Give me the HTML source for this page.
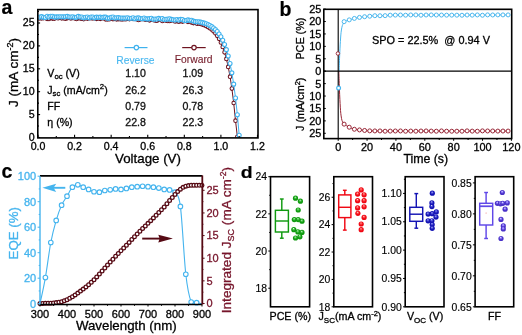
<!DOCTYPE html>
<html><head><meta charset="utf-8"><style>
html,body{margin:0;padding:0;background:#fff;}
svg{display:block;will-change:transform;}
text{font-family:"Liberation Sans", sans-serif;paint-order:stroke;}
</style></head><body>
<svg width="522" height="335" viewBox="0 0 522 335">
<defs><clipPath id="clipA"><rect x="38.4" y="9.6" width="220" height="128"/></clipPath></defs>
<rect width="522" height="335" fill="#fff"/>
<g clip-path="url(#clipA)">
<polyline fill="none" stroke="#6e1420" stroke-width="1" points="38,18.55 39.83,18.13 41.66,18.37 43.49,18.05 45.32,18.03 47.15,18.8 48.97,18.88 50.8,17.75 52.63,18.55 54.46,18.59 56.29,17.56 58.12,18.29 59.95,17.79 61.78,18.3 63.61,18.09 65.44,18.77 67.26,18.12 69.09,17.82 70.92,18.31 72.75,18.02 74.58,18.14 76.41,18.99 78.24,18.06 80.07,18.31 81.9,18.73 83.72,19.12 85.55,18 87.38,18.56 89.21,18.25 91.04,18.06 92.87,18.31 94.7,18.05 96.53,18.8 98.36,18.28 100.19,18.8 102.02,18.15 103.84,18.26 105.67,19.37 107.5,19.35 109.33,19.28 111.16,18.28 112.99,19.05 114.82,18.83 116.65,19.31 118.48,19.07 120.31,19.28 122.13,19.37 123.96,19.09 125.79,19.13 127.62,18.74 129.45,19.09 131.28,18.79 133.11,18.94 134.94,18.8 136.77,19.29 138.6,20.04 140.42,19.13 142.25,19.04 144.08,19.18 145.91,19.7 147.74,19.55 149.57,20.3 151.4,19.51 153.23,19.92 155.06,20.38 156.88,20.74 158.71,19.72 160.54,19.6 162.37,20.91 164.2,20 166.03,20.61 167.86,21.04 169.69,20.92 171.52,20.35 173.35,20.3 175.18,21.53 177,20.84 178.83,21.73 180.66,20.92 182.49,21.58 184.32,20.97 186.15,20.98 187.98,21.81 189.81,21.33 191.64,22.5 193.47,23.07 195.29,22.65 197.12,23.78 198.95,23.54 200.78,24.02 202.61,24.59 204.44,25.27 206.27,26.08 208.1,27.05 209.93,28.21 211.76,29.61 213.58,31.31 215.41,33.36 217.24,35.84 219.07,38.85 220.9,42.51 222.73,46.95 224.56,52.35 226.39,58.93 228.22,66.93 230.05,76.68 231.87,88.55 233.7,103.02 235.53,120.65 237.36,136.81"/>
<circle cx="38" cy="18.55" r="1.8" fill="#fff" stroke="#6e1420" stroke-width="1.05"/>
<circle cx="39.83" cy="18.13" r="1.8" fill="#fff" stroke="#6e1420" stroke-width="1.05"/>
<circle cx="41.66" cy="18.37" r="1.8" fill="#fff" stroke="#6e1420" stroke-width="1.05"/>
<circle cx="43.49" cy="18.05" r="1.8" fill="#fff" stroke="#6e1420" stroke-width="1.05"/>
<circle cx="45.32" cy="18.03" r="1.8" fill="#fff" stroke="#6e1420" stroke-width="1.05"/>
<circle cx="47.15" cy="18.8" r="1.8" fill="#fff" stroke="#6e1420" stroke-width="1.05"/>
<circle cx="48.97" cy="18.88" r="1.8" fill="#fff" stroke="#6e1420" stroke-width="1.05"/>
<circle cx="50.8" cy="17.75" r="1.8" fill="#fff" stroke="#6e1420" stroke-width="1.05"/>
<circle cx="52.63" cy="18.55" r="1.8" fill="#fff" stroke="#6e1420" stroke-width="1.05"/>
<circle cx="54.46" cy="18.59" r="1.8" fill="#fff" stroke="#6e1420" stroke-width="1.05"/>
<circle cx="56.29" cy="17.56" r="1.8" fill="#fff" stroke="#6e1420" stroke-width="1.05"/>
<circle cx="58.12" cy="18.29" r="1.8" fill="#fff" stroke="#6e1420" stroke-width="1.05"/>
<circle cx="59.95" cy="17.79" r="1.8" fill="#fff" stroke="#6e1420" stroke-width="1.05"/>
<circle cx="61.78" cy="18.3" r="1.8" fill="#fff" stroke="#6e1420" stroke-width="1.05"/>
<circle cx="63.61" cy="18.09" r="1.8" fill="#fff" stroke="#6e1420" stroke-width="1.05"/>
<circle cx="65.44" cy="18.77" r="1.8" fill="#fff" stroke="#6e1420" stroke-width="1.05"/>
<circle cx="67.26" cy="18.12" r="1.8" fill="#fff" stroke="#6e1420" stroke-width="1.05"/>
<circle cx="69.09" cy="17.82" r="1.8" fill="#fff" stroke="#6e1420" stroke-width="1.05"/>
<circle cx="70.92" cy="18.31" r="1.8" fill="#fff" stroke="#6e1420" stroke-width="1.05"/>
<circle cx="72.75" cy="18.02" r="1.8" fill="#fff" stroke="#6e1420" stroke-width="1.05"/>
<circle cx="74.58" cy="18.14" r="1.8" fill="#fff" stroke="#6e1420" stroke-width="1.05"/>
<circle cx="76.41" cy="18.99" r="1.8" fill="#fff" stroke="#6e1420" stroke-width="1.05"/>
<circle cx="78.24" cy="18.06" r="1.8" fill="#fff" stroke="#6e1420" stroke-width="1.05"/>
<circle cx="80.07" cy="18.31" r="1.8" fill="#fff" stroke="#6e1420" stroke-width="1.05"/>
<circle cx="81.9" cy="18.73" r="1.8" fill="#fff" stroke="#6e1420" stroke-width="1.05"/>
<circle cx="83.72" cy="19.12" r="1.8" fill="#fff" stroke="#6e1420" stroke-width="1.05"/>
<circle cx="85.55" cy="18" r="1.8" fill="#fff" stroke="#6e1420" stroke-width="1.05"/>
<circle cx="87.38" cy="18.56" r="1.8" fill="#fff" stroke="#6e1420" stroke-width="1.05"/>
<circle cx="89.21" cy="18.25" r="1.8" fill="#fff" stroke="#6e1420" stroke-width="1.05"/>
<circle cx="91.04" cy="18.06" r="1.8" fill="#fff" stroke="#6e1420" stroke-width="1.05"/>
<circle cx="92.87" cy="18.31" r="1.8" fill="#fff" stroke="#6e1420" stroke-width="1.05"/>
<circle cx="94.7" cy="18.05" r="1.8" fill="#fff" stroke="#6e1420" stroke-width="1.05"/>
<circle cx="96.53" cy="18.8" r="1.8" fill="#fff" stroke="#6e1420" stroke-width="1.05"/>
<circle cx="98.36" cy="18.28" r="1.8" fill="#fff" stroke="#6e1420" stroke-width="1.05"/>
<circle cx="100.19" cy="18.8" r="1.8" fill="#fff" stroke="#6e1420" stroke-width="1.05"/>
<circle cx="102.02" cy="18.15" r="1.8" fill="#fff" stroke="#6e1420" stroke-width="1.05"/>
<circle cx="103.84" cy="18.26" r="1.8" fill="#fff" stroke="#6e1420" stroke-width="1.05"/>
<circle cx="105.67" cy="19.37" r="1.8" fill="#fff" stroke="#6e1420" stroke-width="1.05"/>
<circle cx="107.5" cy="19.35" r="1.8" fill="#fff" stroke="#6e1420" stroke-width="1.05"/>
<circle cx="109.33" cy="19.28" r="1.8" fill="#fff" stroke="#6e1420" stroke-width="1.05"/>
<circle cx="111.16" cy="18.28" r="1.8" fill="#fff" stroke="#6e1420" stroke-width="1.05"/>
<circle cx="112.99" cy="19.05" r="1.8" fill="#fff" stroke="#6e1420" stroke-width="1.05"/>
<circle cx="114.82" cy="18.83" r="1.8" fill="#fff" stroke="#6e1420" stroke-width="1.05"/>
<circle cx="116.65" cy="19.31" r="1.8" fill="#fff" stroke="#6e1420" stroke-width="1.05"/>
<circle cx="118.48" cy="19.07" r="1.8" fill="#fff" stroke="#6e1420" stroke-width="1.05"/>
<circle cx="120.31" cy="19.28" r="1.8" fill="#fff" stroke="#6e1420" stroke-width="1.05"/>
<circle cx="122.13" cy="19.37" r="1.8" fill="#fff" stroke="#6e1420" stroke-width="1.05"/>
<circle cx="123.96" cy="19.09" r="1.8" fill="#fff" stroke="#6e1420" stroke-width="1.05"/>
<circle cx="125.79" cy="19.13" r="1.8" fill="#fff" stroke="#6e1420" stroke-width="1.05"/>
<circle cx="127.62" cy="18.74" r="1.8" fill="#fff" stroke="#6e1420" stroke-width="1.05"/>
<circle cx="129.45" cy="19.09" r="1.8" fill="#fff" stroke="#6e1420" stroke-width="1.05"/>
<circle cx="131.28" cy="18.79" r="1.8" fill="#fff" stroke="#6e1420" stroke-width="1.05"/>
<circle cx="133.11" cy="18.94" r="1.8" fill="#fff" stroke="#6e1420" stroke-width="1.05"/>
<circle cx="134.94" cy="18.8" r="1.8" fill="#fff" stroke="#6e1420" stroke-width="1.05"/>
<circle cx="136.77" cy="19.29" r="1.8" fill="#fff" stroke="#6e1420" stroke-width="1.05"/>
<circle cx="138.6" cy="20.04" r="1.8" fill="#fff" stroke="#6e1420" stroke-width="1.05"/>
<circle cx="140.42" cy="19.13" r="1.8" fill="#fff" stroke="#6e1420" stroke-width="1.05"/>
<circle cx="142.25" cy="19.04" r="1.8" fill="#fff" stroke="#6e1420" stroke-width="1.05"/>
<circle cx="144.08" cy="19.18" r="1.8" fill="#fff" stroke="#6e1420" stroke-width="1.05"/>
<circle cx="145.91" cy="19.7" r="1.8" fill="#fff" stroke="#6e1420" stroke-width="1.05"/>
<circle cx="147.74" cy="19.55" r="1.8" fill="#fff" stroke="#6e1420" stroke-width="1.05"/>
<circle cx="149.57" cy="20.3" r="1.8" fill="#fff" stroke="#6e1420" stroke-width="1.05"/>
<circle cx="151.4" cy="19.51" r="1.8" fill="#fff" stroke="#6e1420" stroke-width="1.05"/>
<circle cx="153.23" cy="19.92" r="1.8" fill="#fff" stroke="#6e1420" stroke-width="1.05"/>
<circle cx="155.06" cy="20.38" r="1.8" fill="#fff" stroke="#6e1420" stroke-width="1.05"/>
<circle cx="156.88" cy="20.74" r="1.8" fill="#fff" stroke="#6e1420" stroke-width="1.05"/>
<circle cx="158.71" cy="19.72" r="1.8" fill="#fff" stroke="#6e1420" stroke-width="1.05"/>
<circle cx="160.54" cy="19.6" r="1.8" fill="#fff" stroke="#6e1420" stroke-width="1.05"/>
<circle cx="162.37" cy="20.91" r="1.8" fill="#fff" stroke="#6e1420" stroke-width="1.05"/>
<circle cx="164.2" cy="20" r="1.8" fill="#fff" stroke="#6e1420" stroke-width="1.05"/>
<circle cx="166.03" cy="20.61" r="1.8" fill="#fff" stroke="#6e1420" stroke-width="1.05"/>
<circle cx="167.86" cy="21.04" r="1.8" fill="#fff" stroke="#6e1420" stroke-width="1.05"/>
<circle cx="169.69" cy="20.92" r="1.8" fill="#fff" stroke="#6e1420" stroke-width="1.05"/>
<circle cx="171.52" cy="20.35" r="1.8" fill="#fff" stroke="#6e1420" stroke-width="1.05"/>
<circle cx="173.35" cy="20.3" r="1.8" fill="#fff" stroke="#6e1420" stroke-width="1.05"/>
<circle cx="175.18" cy="21.53" r="1.8" fill="#fff" stroke="#6e1420" stroke-width="1.05"/>
<circle cx="177" cy="20.84" r="1.8" fill="#fff" stroke="#6e1420" stroke-width="1.05"/>
<circle cx="178.83" cy="21.73" r="1.8" fill="#fff" stroke="#6e1420" stroke-width="1.05"/>
<circle cx="180.66" cy="20.92" r="1.8" fill="#fff" stroke="#6e1420" stroke-width="1.05"/>
<circle cx="182.49" cy="21.58" r="1.8" fill="#fff" stroke="#6e1420" stroke-width="1.05"/>
<circle cx="184.32" cy="20.97" r="1.8" fill="#fff" stroke="#6e1420" stroke-width="1.05"/>
<circle cx="186.15" cy="20.98" r="1.8" fill="#fff" stroke="#6e1420" stroke-width="1.05"/>
<circle cx="187.98" cy="21.81" r="1.8" fill="#fff" stroke="#6e1420" stroke-width="1.05"/>
<circle cx="189.81" cy="21.33" r="1.8" fill="#fff" stroke="#6e1420" stroke-width="1.05"/>
<circle cx="191.64" cy="22.5" r="1.8" fill="#fff" stroke="#6e1420" stroke-width="1.05"/>
<circle cx="193.47" cy="23.07" r="1.8" fill="#fff" stroke="#6e1420" stroke-width="1.05"/>
<circle cx="195.29" cy="22.65" r="1.8" fill="#fff" stroke="#6e1420" stroke-width="1.05"/>
<circle cx="197.12" cy="23.78" r="1.8" fill="#fff" stroke="#6e1420" stroke-width="1.05"/>
<circle cx="198.95" cy="23.54" r="1.8" fill="#fff" stroke="#6e1420" stroke-width="1.05"/>
<circle cx="200.78" cy="24.02" r="1.8" fill="#fff" stroke="#6e1420" stroke-width="1.05"/>
<circle cx="202.61" cy="24.59" r="1.8" fill="#fff" stroke="#6e1420" stroke-width="1.05"/>
<circle cx="204.44" cy="25.27" r="1.8" fill="#fff" stroke="#6e1420" stroke-width="1.05"/>
<circle cx="206.27" cy="26.08" r="1.8" fill="#fff" stroke="#6e1420" stroke-width="1.05"/>
<circle cx="208.1" cy="27.05" r="1.8" fill="#fff" stroke="#6e1420" stroke-width="1.05"/>
<circle cx="209.93" cy="28.21" r="1.8" fill="#fff" stroke="#6e1420" stroke-width="1.05"/>
<circle cx="211.76" cy="29.61" r="1.8" fill="#fff" stroke="#6e1420" stroke-width="1.05"/>
<circle cx="213.58" cy="31.31" r="1.8" fill="#fff" stroke="#6e1420" stroke-width="1.05"/>
<circle cx="215.41" cy="33.36" r="1.8" fill="#fff" stroke="#6e1420" stroke-width="1.05"/>
<circle cx="217.24" cy="35.84" r="1.8" fill="#fff" stroke="#6e1420" stroke-width="1.05"/>
<circle cx="219.07" cy="38.85" r="1.8" fill="#fff" stroke="#6e1420" stroke-width="1.05"/>
<circle cx="220.9" cy="42.51" r="1.8" fill="#fff" stroke="#6e1420" stroke-width="1.05"/>
<circle cx="222.73" cy="46.95" r="1.8" fill="#fff" stroke="#6e1420" stroke-width="1.05"/>
<circle cx="224.56" cy="52.35" r="1.8" fill="#fff" stroke="#6e1420" stroke-width="1.05"/>
<circle cx="226.39" cy="58.93" r="1.8" fill="#fff" stroke="#6e1420" stroke-width="1.05"/>
<circle cx="228.22" cy="66.93" r="1.8" fill="#fff" stroke="#6e1420" stroke-width="1.05"/>
<circle cx="230.05" cy="76.68" r="1.8" fill="#fff" stroke="#6e1420" stroke-width="1.05"/>
<circle cx="231.87" cy="88.55" r="1.8" fill="#fff" stroke="#6e1420" stroke-width="1.05"/>
<circle cx="233.7" cy="103.02" r="1.8" fill="#fff" stroke="#6e1420" stroke-width="1.05"/>
<circle cx="235.53" cy="120.65" r="1.8" fill="#fff" stroke="#6e1420" stroke-width="1.05"/>
<circle cx="237.36" cy="136.81" r="1.8" fill="#fff" stroke="#6e1420" stroke-width="1.05"/>
<polyline fill="none" stroke="#3fb2ee" stroke-width="1" points="38,17.23 39.83,16.94 41.66,16.67 43.49,17.29 45.32,17.45 47.15,16.32 48.97,17.09 50.8,16.21 52.63,16.3 54.46,17.02 56.29,16.92 58.12,16.84 59.95,16.69 61.78,16.76 63.61,16.83 65.44,16.75 67.26,16.33 69.09,16.94 70.92,17.06 72.75,16.68 74.58,17.36 76.41,17.29 78.24,16.38 80.07,17.03 81.9,17.01 83.72,17.77 85.55,17.24 87.38,17.04 89.21,17.84 91.04,17.04 92.87,17.05 94.7,17.86 96.53,17.11 98.36,17.36 100.19,17.1 102.02,17.58 103.84,17.13 105.67,17.12 107.5,18.13 109.33,18.12 111.16,17.31 112.99,16.95 114.82,17.97 116.65,17.72 118.48,17.58 120.31,17.99 122.13,17.97 123.96,18.09 125.79,18.05 127.62,17.79 129.45,18.24 131.28,18.18 133.11,17.68 134.94,18.75 136.77,18.06 138.6,17.88 140.42,18.52 142.25,18.69 144.08,17.94 145.91,18.77 147.74,18.9 149.57,18.62 151.4,18.31 153.23,19.19 155.06,18.95 156.88,18.99 158.71,18.37 160.54,18.98 162.37,18.47 164.2,19.48 166.03,19.32 167.86,18.97 169.69,18.72 171.52,19.4 173.35,19.79 175.18,20.02 177,19.55 178.83,20.11 180.66,19.37 182.49,19.44 184.32,20.47 186.15,20.48 187.98,19.9 189.81,20.3 191.64,20.26 193.47,21.11 195.29,21.66 197.12,21.72 198.95,21.77 200.78,22.17 202.61,22.63 204.44,23.17 206.27,23.82 208.1,24.6 209.93,25.52 211.76,26.64 213.58,27.98 215.41,29.6 217.24,31.56 219.07,33.93 220.9,36.8 222.73,40.29 224.56,44.52 226.39,49.67 228.22,55.94 230.05,63.56 231.87,72.85 233.7,84.16 235.53,97.94 237.36,114.74 239.19,135.22"/>
<circle cx="38" cy="17.23" r="2" fill="#fff" stroke="#3fb2ee" stroke-width="1.1"/>
<circle cx="39.83" cy="16.94" r="2" fill="#fff" stroke="#3fb2ee" stroke-width="1.1"/>
<circle cx="41.66" cy="16.67" r="2" fill="#fff" stroke="#3fb2ee" stroke-width="1.1"/>
<circle cx="43.49" cy="17.29" r="2" fill="#fff" stroke="#3fb2ee" stroke-width="1.1"/>
<circle cx="45.32" cy="17.45" r="2" fill="#fff" stroke="#3fb2ee" stroke-width="1.1"/>
<circle cx="47.15" cy="16.32" r="2" fill="#fff" stroke="#3fb2ee" stroke-width="1.1"/>
<circle cx="48.97" cy="17.09" r="2" fill="#fff" stroke="#3fb2ee" stroke-width="1.1"/>
<circle cx="50.8" cy="16.21" r="2" fill="#fff" stroke="#3fb2ee" stroke-width="1.1"/>
<circle cx="52.63" cy="16.3" r="2" fill="#fff" stroke="#3fb2ee" stroke-width="1.1"/>
<circle cx="54.46" cy="17.02" r="2" fill="#fff" stroke="#3fb2ee" stroke-width="1.1"/>
<circle cx="56.29" cy="16.92" r="2" fill="#fff" stroke="#3fb2ee" stroke-width="1.1"/>
<circle cx="58.12" cy="16.84" r="2" fill="#fff" stroke="#3fb2ee" stroke-width="1.1"/>
<circle cx="59.95" cy="16.69" r="2" fill="#fff" stroke="#3fb2ee" stroke-width="1.1"/>
<circle cx="61.78" cy="16.76" r="2" fill="#fff" stroke="#3fb2ee" stroke-width="1.1"/>
<circle cx="63.61" cy="16.83" r="2" fill="#fff" stroke="#3fb2ee" stroke-width="1.1"/>
<circle cx="65.44" cy="16.75" r="2" fill="#fff" stroke="#3fb2ee" stroke-width="1.1"/>
<circle cx="67.26" cy="16.33" r="2" fill="#fff" stroke="#3fb2ee" stroke-width="1.1"/>
<circle cx="69.09" cy="16.94" r="2" fill="#fff" stroke="#3fb2ee" stroke-width="1.1"/>
<circle cx="70.92" cy="17.06" r="2" fill="#fff" stroke="#3fb2ee" stroke-width="1.1"/>
<circle cx="72.75" cy="16.68" r="2" fill="#fff" stroke="#3fb2ee" stroke-width="1.1"/>
<circle cx="74.58" cy="17.36" r="2" fill="#fff" stroke="#3fb2ee" stroke-width="1.1"/>
<circle cx="76.41" cy="17.29" r="2" fill="#fff" stroke="#3fb2ee" stroke-width="1.1"/>
<circle cx="78.24" cy="16.38" r="2" fill="#fff" stroke="#3fb2ee" stroke-width="1.1"/>
<circle cx="80.07" cy="17.03" r="2" fill="#fff" stroke="#3fb2ee" stroke-width="1.1"/>
<circle cx="81.9" cy="17.01" r="2" fill="#fff" stroke="#3fb2ee" stroke-width="1.1"/>
<circle cx="83.72" cy="17.77" r="2" fill="#fff" stroke="#3fb2ee" stroke-width="1.1"/>
<circle cx="85.55" cy="17.24" r="2" fill="#fff" stroke="#3fb2ee" stroke-width="1.1"/>
<circle cx="87.38" cy="17.04" r="2" fill="#fff" stroke="#3fb2ee" stroke-width="1.1"/>
<circle cx="89.21" cy="17.84" r="2" fill="#fff" stroke="#3fb2ee" stroke-width="1.1"/>
<circle cx="91.04" cy="17.04" r="2" fill="#fff" stroke="#3fb2ee" stroke-width="1.1"/>
<circle cx="92.87" cy="17.05" r="2" fill="#fff" stroke="#3fb2ee" stroke-width="1.1"/>
<circle cx="94.7" cy="17.86" r="2" fill="#fff" stroke="#3fb2ee" stroke-width="1.1"/>
<circle cx="96.53" cy="17.11" r="2" fill="#fff" stroke="#3fb2ee" stroke-width="1.1"/>
<circle cx="98.36" cy="17.36" r="2" fill="#fff" stroke="#3fb2ee" stroke-width="1.1"/>
<circle cx="100.19" cy="17.1" r="2" fill="#fff" stroke="#3fb2ee" stroke-width="1.1"/>
<circle cx="102.02" cy="17.58" r="2" fill="#fff" stroke="#3fb2ee" stroke-width="1.1"/>
<circle cx="103.84" cy="17.13" r="2" fill="#fff" stroke="#3fb2ee" stroke-width="1.1"/>
<circle cx="105.67" cy="17.12" r="2" fill="#fff" stroke="#3fb2ee" stroke-width="1.1"/>
<circle cx="107.5" cy="18.13" r="2" fill="#fff" stroke="#3fb2ee" stroke-width="1.1"/>
<circle cx="109.33" cy="18.12" r="2" fill="#fff" stroke="#3fb2ee" stroke-width="1.1"/>
<circle cx="111.16" cy="17.31" r="2" fill="#fff" stroke="#3fb2ee" stroke-width="1.1"/>
<circle cx="112.99" cy="16.95" r="2" fill="#fff" stroke="#3fb2ee" stroke-width="1.1"/>
<circle cx="114.82" cy="17.97" r="2" fill="#fff" stroke="#3fb2ee" stroke-width="1.1"/>
<circle cx="116.65" cy="17.72" r="2" fill="#fff" stroke="#3fb2ee" stroke-width="1.1"/>
<circle cx="118.48" cy="17.58" r="2" fill="#fff" stroke="#3fb2ee" stroke-width="1.1"/>
<circle cx="120.31" cy="17.99" r="2" fill="#fff" stroke="#3fb2ee" stroke-width="1.1"/>
<circle cx="122.13" cy="17.97" r="2" fill="#fff" stroke="#3fb2ee" stroke-width="1.1"/>
<circle cx="123.96" cy="18.09" r="2" fill="#fff" stroke="#3fb2ee" stroke-width="1.1"/>
<circle cx="125.79" cy="18.05" r="2" fill="#fff" stroke="#3fb2ee" stroke-width="1.1"/>
<circle cx="127.62" cy="17.79" r="2" fill="#fff" stroke="#3fb2ee" stroke-width="1.1"/>
<circle cx="129.45" cy="18.24" r="2" fill="#fff" stroke="#3fb2ee" stroke-width="1.1"/>
<circle cx="131.28" cy="18.18" r="2" fill="#fff" stroke="#3fb2ee" stroke-width="1.1"/>
<circle cx="133.11" cy="17.68" r="2" fill="#fff" stroke="#3fb2ee" stroke-width="1.1"/>
<circle cx="134.94" cy="18.75" r="2" fill="#fff" stroke="#3fb2ee" stroke-width="1.1"/>
<circle cx="136.77" cy="18.06" r="2" fill="#fff" stroke="#3fb2ee" stroke-width="1.1"/>
<circle cx="138.6" cy="17.88" r="2" fill="#fff" stroke="#3fb2ee" stroke-width="1.1"/>
<circle cx="140.42" cy="18.52" r="2" fill="#fff" stroke="#3fb2ee" stroke-width="1.1"/>
<circle cx="142.25" cy="18.69" r="2" fill="#fff" stroke="#3fb2ee" stroke-width="1.1"/>
<circle cx="144.08" cy="17.94" r="2" fill="#fff" stroke="#3fb2ee" stroke-width="1.1"/>
<circle cx="145.91" cy="18.77" r="2" fill="#fff" stroke="#3fb2ee" stroke-width="1.1"/>
<circle cx="147.74" cy="18.9" r="2" fill="#fff" stroke="#3fb2ee" stroke-width="1.1"/>
<circle cx="149.57" cy="18.62" r="2" fill="#fff" stroke="#3fb2ee" stroke-width="1.1"/>
<circle cx="151.4" cy="18.31" r="2" fill="#fff" stroke="#3fb2ee" stroke-width="1.1"/>
<circle cx="153.23" cy="19.19" r="2" fill="#fff" stroke="#3fb2ee" stroke-width="1.1"/>
<circle cx="155.06" cy="18.95" r="2" fill="#fff" stroke="#3fb2ee" stroke-width="1.1"/>
<circle cx="156.88" cy="18.99" r="2" fill="#fff" stroke="#3fb2ee" stroke-width="1.1"/>
<circle cx="158.71" cy="18.37" r="2" fill="#fff" stroke="#3fb2ee" stroke-width="1.1"/>
<circle cx="160.54" cy="18.98" r="2" fill="#fff" stroke="#3fb2ee" stroke-width="1.1"/>
<circle cx="162.37" cy="18.47" r="2" fill="#fff" stroke="#3fb2ee" stroke-width="1.1"/>
<circle cx="164.2" cy="19.48" r="2" fill="#fff" stroke="#3fb2ee" stroke-width="1.1"/>
<circle cx="166.03" cy="19.32" r="2" fill="#fff" stroke="#3fb2ee" stroke-width="1.1"/>
<circle cx="167.86" cy="18.97" r="2" fill="#fff" stroke="#3fb2ee" stroke-width="1.1"/>
<circle cx="169.69" cy="18.72" r="2" fill="#fff" stroke="#3fb2ee" stroke-width="1.1"/>
<circle cx="171.52" cy="19.4" r="2" fill="#fff" stroke="#3fb2ee" stroke-width="1.1"/>
<circle cx="173.35" cy="19.79" r="2" fill="#fff" stroke="#3fb2ee" stroke-width="1.1"/>
<circle cx="175.18" cy="20.02" r="2" fill="#fff" stroke="#3fb2ee" stroke-width="1.1"/>
<circle cx="177" cy="19.55" r="2" fill="#fff" stroke="#3fb2ee" stroke-width="1.1"/>
<circle cx="178.83" cy="20.11" r="2" fill="#fff" stroke="#3fb2ee" stroke-width="1.1"/>
<circle cx="180.66" cy="19.37" r="2" fill="#fff" stroke="#3fb2ee" stroke-width="1.1"/>
<circle cx="182.49" cy="19.44" r="2" fill="#fff" stroke="#3fb2ee" stroke-width="1.1"/>
<circle cx="184.32" cy="20.47" r="2" fill="#fff" stroke="#3fb2ee" stroke-width="1.1"/>
<circle cx="186.15" cy="20.48" r="2" fill="#fff" stroke="#3fb2ee" stroke-width="1.1"/>
<circle cx="187.98" cy="19.9" r="2" fill="#fff" stroke="#3fb2ee" stroke-width="1.1"/>
<circle cx="189.81" cy="20.3" r="2" fill="#fff" stroke="#3fb2ee" stroke-width="1.1"/>
<circle cx="191.64" cy="20.26" r="2" fill="#fff" stroke="#3fb2ee" stroke-width="1.1"/>
<circle cx="193.47" cy="21.11" r="2" fill="#fff" stroke="#3fb2ee" stroke-width="1.1"/>
<circle cx="195.29" cy="21.66" r="2" fill="#fff" stroke="#3fb2ee" stroke-width="1.1"/>
<circle cx="197.12" cy="21.72" r="2" fill="#fff" stroke="#3fb2ee" stroke-width="1.1"/>
<circle cx="198.95" cy="21.77" r="2" fill="#fff" stroke="#3fb2ee" stroke-width="1.1"/>
<circle cx="200.78" cy="22.17" r="2" fill="#fff" stroke="#3fb2ee" stroke-width="1.1"/>
<circle cx="202.61" cy="22.63" r="2" fill="#fff" stroke="#3fb2ee" stroke-width="1.1"/>
<circle cx="204.44" cy="23.17" r="2" fill="#fff" stroke="#3fb2ee" stroke-width="1.1"/>
<circle cx="206.27" cy="23.82" r="2" fill="#fff" stroke="#3fb2ee" stroke-width="1.1"/>
<circle cx="208.1" cy="24.6" r="2" fill="#fff" stroke="#3fb2ee" stroke-width="1.1"/>
<circle cx="209.93" cy="25.52" r="2" fill="#fff" stroke="#3fb2ee" stroke-width="1.1"/>
<circle cx="211.76" cy="26.64" r="2" fill="#fff" stroke="#3fb2ee" stroke-width="1.1"/>
<circle cx="213.58" cy="27.98" r="2" fill="#fff" stroke="#3fb2ee" stroke-width="1.1"/>
<circle cx="215.41" cy="29.6" r="2" fill="#fff" stroke="#3fb2ee" stroke-width="1.1"/>
<circle cx="217.24" cy="31.56" r="2" fill="#fff" stroke="#3fb2ee" stroke-width="1.1"/>
<circle cx="219.07" cy="33.93" r="2" fill="#fff" stroke="#3fb2ee" stroke-width="1.1"/>
<circle cx="220.9" cy="36.8" r="2" fill="#fff" stroke="#3fb2ee" stroke-width="1.1"/>
<circle cx="222.73" cy="40.29" r="2" fill="#fff" stroke="#3fb2ee" stroke-width="1.1"/>
<circle cx="224.56" cy="44.52" r="2" fill="#fff" stroke="#3fb2ee" stroke-width="1.1"/>
<circle cx="226.39" cy="49.67" r="2" fill="#fff" stroke="#3fb2ee" stroke-width="1.1"/>
<circle cx="228.22" cy="55.94" r="2" fill="#fff" stroke="#3fb2ee" stroke-width="1.1"/>
<circle cx="230.05" cy="63.56" r="2" fill="#fff" stroke="#3fb2ee" stroke-width="1.1"/>
<circle cx="231.87" cy="72.85" r="2" fill="#fff" stroke="#3fb2ee" stroke-width="1.1"/>
<circle cx="233.7" cy="84.16" r="2" fill="#fff" stroke="#3fb2ee" stroke-width="1.1"/>
<circle cx="235.53" cy="97.94" r="2" fill="#fff" stroke="#3fb2ee" stroke-width="1.1"/>
<circle cx="237.36" cy="114.74" r="2" fill="#fff" stroke="#3fb2ee" stroke-width="1.1"/>
<circle cx="239.19" cy="135.22" r="2" fill="#fff" stroke="#3fb2ee" stroke-width="1.1"/>
</g>
<rect x="37.8" y="9.6" width="220.2" height="128.3" fill="none" stroke="#000" stroke-width="1.6"/>
<line x1="38" y1="137.5" x2="38" y2="134.7" stroke="#000" stroke-width="1.1"/>
<line x1="56.29" y1="137.5" x2="56.29" y2="136.1" stroke="#000" stroke-width="1.1"/>
<line x1="74.58" y1="137.5" x2="74.58" y2="134.7" stroke="#000" stroke-width="1.1"/>
<line x1="92.87" y1="137.5" x2="92.87" y2="136.1" stroke="#000" stroke-width="1.1"/>
<line x1="111.16" y1="137.5" x2="111.16" y2="134.7" stroke="#000" stroke-width="1.1"/>
<line x1="129.45" y1="137.5" x2="129.45" y2="136.1" stroke="#000" stroke-width="1.1"/>
<line x1="147.74" y1="137.5" x2="147.74" y2="134.7" stroke="#000" stroke-width="1.1"/>
<line x1="166.03" y1="137.5" x2="166.03" y2="136.1" stroke="#000" stroke-width="1.1"/>
<line x1="184.32" y1="137.5" x2="184.32" y2="134.7" stroke="#000" stroke-width="1.1"/>
<line x1="202.61" y1="137.5" x2="202.61" y2="136.1" stroke="#000" stroke-width="1.1"/>
<line x1="220.9" y1="137.5" x2="220.9" y2="134.7" stroke="#000" stroke-width="1.1"/>
<line x1="239.19" y1="137.5" x2="239.19" y2="136.1" stroke="#000" stroke-width="1.1"/>
<line x1="257.48" y1="137.5" x2="257.48" y2="134.7" stroke="#000" stroke-width="1.1"/>
<line x1="37.8" y1="137.5" x2="40.1" y2="137.5" stroke="#000" stroke-width="1.1"/>
<line x1="37.8" y1="126.05" x2="39" y2="126.05" stroke="#000" stroke-width="1.1"/>
<line x1="37.8" y1="114.6" x2="40.1" y2="114.6" stroke="#000" stroke-width="1.1"/>
<line x1="37.8" y1="103.15" x2="39" y2="103.15" stroke="#000" stroke-width="1.1"/>
<line x1="37.8" y1="91.7" x2="40.1" y2="91.7" stroke="#000" stroke-width="1.1"/>
<line x1="37.8" y1="80.25" x2="39" y2="80.25" stroke="#000" stroke-width="1.1"/>
<line x1="37.8" y1="68.8" x2="40.1" y2="68.8" stroke="#000" stroke-width="1.1"/>
<line x1="37.8" y1="57.35" x2="39" y2="57.35" stroke="#000" stroke-width="1.1"/>
<line x1="37.8" y1="45.9" x2="40.1" y2="45.9" stroke="#000" stroke-width="1.1"/>
<line x1="37.8" y1="34.45" x2="39" y2="34.45" stroke="#000" stroke-width="1.1"/>
<line x1="37.8" y1="23" x2="40.1" y2="23" stroke="#000" stroke-width="1.1"/>
<line x1="37.8" y1="11.55" x2="39" y2="11.55" stroke="#000" stroke-width="1.1"/>
<text x="38" y="149.5" font-size="10.6" text-anchor="middle" fill="#000" stroke="#000" stroke-width="0.3" font-weight="normal">0.0</text>
<text x="74.58" y="149.5" font-size="10.6" text-anchor="middle" fill="#000" stroke="#000" stroke-width="0.3" font-weight="normal">0.2</text>
<text x="111.16" y="149.5" font-size="10.6" text-anchor="middle" fill="#000" stroke="#000" stroke-width="0.3" font-weight="normal">0.4</text>
<text x="147.74" y="149.5" font-size="10.6" text-anchor="middle" fill="#000" stroke="#000" stroke-width="0.3" font-weight="normal">0.6</text>
<text x="184.32" y="149.5" font-size="10.6" text-anchor="middle" fill="#000" stroke="#000" stroke-width="0.3" font-weight="normal">0.8</text>
<text x="220.9" y="149.5" font-size="10.6" text-anchor="middle" fill="#000" stroke="#000" stroke-width="0.3" font-weight="normal">1.0</text>
<text x="257.48" y="149.5" font-size="10.6" text-anchor="middle" fill="#000" stroke="#000" stroke-width="0.3" font-weight="normal">1.2</text>
<text x="34.6" y="140.8" font-size="10.6" text-anchor="end" fill="#000" stroke="#000" stroke-width="0.3" font-weight="normal">0</text>
<text x="34.6" y="117.9" font-size="10.6" text-anchor="end" fill="#000" stroke="#000" stroke-width="0.3" font-weight="normal">5</text>
<text x="34.6" y="95" font-size="10.6" text-anchor="end" fill="#000" stroke="#000" stroke-width="0.3" font-weight="normal">10</text>
<text x="34.6" y="72.1" font-size="10.6" text-anchor="end" fill="#000" stroke="#000" stroke-width="0.3" font-weight="normal">15</text>
<text x="34.6" y="49.2" font-size="10.6" text-anchor="end" fill="#000" stroke="#000" stroke-width="0.3" font-weight="normal">20</text>
<text x="34.6" y="26.3" font-size="10.6" text-anchor="end" fill="#000" stroke="#000" stroke-width="0.3" font-weight="normal">25</text>
<text x="148" y="163.3" font-size="13.3" text-anchor="middle" fill="#000" stroke="#000" stroke-width="0.3" font-weight="normal">Voltage (V)</text>
<text x="18.4" y="72.5" font-size="13.6" text-anchor="middle" fill="#000" stroke="#000" stroke-width="0.3" font-weight="normal" transform="rotate(-90 18.4 72.5)">J (mA cm<tspan dy="-5.5" font-size="9">-2</tspan><tspan dy="5.5">)</tspan></text>
<line x1="124.6" y1="47.6" x2="147.5" y2="47.6" stroke="#3fb2ee" stroke-width="1.2"/>
<circle cx="136.4" cy="47.6" r="2.2" fill="#fff" stroke="#3fb2ee" stroke-width="1.2"/>
<line x1="182.2" y1="47.6" x2="205.7" y2="47.6" stroke="#6e1420" stroke-width="1.2"/>
<circle cx="194" cy="47.6" r="2.2" fill="#fff" stroke="#6e1420" stroke-width="1.2"/>
<text x="135.4" y="63.6" font-size="10.3" text-anchor="middle" fill="#4ab8f0" stroke="#4ab8f0" stroke-width="0.12" font-weight="normal">Reverse</text>
<text x="193.7" y="63.4" font-size="10.3" text-anchor="middle" fill="#741a28" stroke="#741a28" stroke-width="0.12" font-weight="normal">Forward</text>
<text x="47.3" y="76.6" font-size="10.6" text-anchor="start" fill="#000" stroke="#000" stroke-width="0.3" font-weight="normal">V<tspan dy="2.6" font-size="7.8">oc</tspan><tspan dy="-2.6"> (V)</tspan></text>
<text x="47.3" y="93.5" font-size="10.6" text-anchor="start" fill="#000" stroke="#000" stroke-width="0.3" font-weight="normal">J<tspan dy="2.6" font-size="7.8">sc</tspan><tspan dy="-2.6"> (mA/cm</tspan><tspan dy="-4.2" font-size="7.8">2</tspan><tspan dy="4.2">)</tspan></text>
<text x="47.3" y="110.2" font-size="10.6" text-anchor="start" fill="#000" stroke="#000" stroke-width="0.3" font-weight="normal">FF</text>
<text x="47.3" y="126.4" font-size="10.6" text-anchor="start" fill="#000" stroke="#000" stroke-width="0.3" font-weight="normal">&#951; (%)</text>
<text x="135.6" y="76.6" font-size="10.6" text-anchor="middle" fill="#111" stroke="#111" stroke-width="0.3" font-weight="normal">1.10</text>
<text x="192.8" y="76.6" font-size="10.6" text-anchor="middle" fill="#111" stroke="#111" stroke-width="0.3" font-weight="normal">1.09</text>
<text x="135.6" y="93.5" font-size="10.6" text-anchor="middle" fill="#111" stroke="#111" stroke-width="0.3" font-weight="normal">26.2</text>
<text x="192.8" y="93.5" font-size="10.6" text-anchor="middle" fill="#111" stroke="#111" stroke-width="0.3" font-weight="normal">26.3</text>
<text x="135.6" y="110.2" font-size="10.6" text-anchor="middle" fill="#111" stroke="#111" stroke-width="0.3" font-weight="normal">0.79</text>
<text x="192.8" y="110.2" font-size="10.6" text-anchor="middle" fill="#111" stroke="#111" stroke-width="0.3" font-weight="normal">0.78</text>
<text x="135.6" y="126.4" font-size="10.6" text-anchor="middle" fill="#111" stroke="#111" stroke-width="0.3" font-weight="normal">22.8</text>
<text x="192.8" y="126.4" font-size="10.6" text-anchor="middle" fill="#111" stroke="#111" stroke-width="0.3" font-weight="normal">22.3</text>
<text x="1.6" y="14.3" font-size="19.5" text-anchor="start" fill="#000" stroke="#000" stroke-width="0.2" font-weight="bold">a</text>
<text x="279.6" y="16" font-size="19.5" text-anchor="start" fill="#000" stroke="#000" stroke-width="0.2" font-weight="bold">b</text>
<path fill="none" stroke="#4ab7ee" stroke-width="1" d="M339.1,71.2 C339.17,69.13 339.39,62.51 339.53,58.78 C339.68,55.05 339.82,51.74 339.97,48.84 C340.11,45.95 340.25,43.71 340.4,41.39 C340.54,39.07 340.66,36.84 340.83,34.93 C341,33.03 341.17,31.5 341.41,29.97 C341.65,28.43 341.94,26.86 342.28,25.74 C342.61,24.63 343.12,23.94 343.43,23.26 C343.74,22.58 343.15,22.22 344.12,21.65 C345.09,21.08 347.53,20.39 349.24,19.86 C350.95,19.32 352.66,18.83 354.36,18.42 C356.07,18.01 357.78,17.69 359.49,17.41 C361.2,17.12 362.9,16.91 364.61,16.71 C366.32,16.52 368.03,16.4 369.74,16.23 C371.44,16.06 373.15,15.77 374.86,15.69 C376.57,15.61 378.28,15.76 379.98,15.76 C381.69,15.75 383.4,15.75 385.11,15.65 C386.82,15.55 388.52,15.25 390.23,15.16 C391.94,15.07 393.65,15.13 395.35,15.1 C397.06,15.08 398.77,14.99 400.48,15 C402.19,15.02 403.89,15.19 405.6,15.18 C407.31,15.17 409.02,14.99 410.73,14.95 C412.43,14.91 414.14,14.9 415.85,14.94 C417.56,14.98 419.27,15.2 420.97,15.2 C422.68,15.21 424.39,15.03 426.1,14.99 C427.8,14.94 429.51,14.94 431.22,14.94 C432.93,14.95 434.64,14.99 436.34,15.01 C438.05,15.03 439.76,15.04 441.47,15.06 C443.18,15.09 444.88,15.14 446.59,15.15 C448.3,15.16 450.01,15.13 451.72,15.13 C453.42,15.13 455.13,15.15 456.84,15.17 C458.55,15.19 460.26,15.26 461.96,15.24 C463.67,15.21 465.38,15.04 467.09,15.03 C468.79,15.01 470.5,15.16 472.21,15.15 C473.92,15.13 475.63,14.92 477.33,14.94 C479.04,14.95 480.75,15.25 482.46,15.24 C484.17,15.24 485.87,14.94 487.58,14.9 C489.29,14.86 491,14.99 492.71,14.98 C494.41,14.98 496.12,14.91 497.83,14.89 C499.54,14.88 501.24,14.9 502.95,14.9 C504.66,14.91 507.22,14.9 508.08,14.9"/>
<path fill="none" stroke="#982636" stroke-width="1" d="M338.8,71.2 C338.87,73.27 339.09,79.69 339.23,83.62 C339.38,87.55 339.52,91.49 339.67,94.8 C339.81,98.11 339.95,100.88 340.1,103.49 C340.24,106.1 340.36,108.38 340.53,110.45 C340.7,112.52 340.87,114.26 341.11,115.91 C341.35,117.57 341.64,119.22 341.98,120.38 C342.31,121.54 342.77,122.24 343.13,122.87 C343.49,123.49 343.1,123.41 344.12,124.14 C345.14,124.87 347.53,126.37 349.24,127.22 C350.95,128.07 352.66,128.8 354.36,129.25 C356.07,129.7 357.78,129.73 359.49,129.93 C361.2,130.13 362.9,130.31 364.61,130.46 C366.32,130.61 368.03,130.77 369.74,130.85 C371.44,130.93 373.15,130.91 374.86,130.93 C376.57,130.95 378.28,130.91 379.98,130.95 C381.69,131 383.4,131.18 385.11,131.2 C386.82,131.22 388.52,131.12 390.23,131.09 C391.94,131.05 393.65,131.01 395.35,130.99 C397.06,130.97 398.77,130.92 400.48,130.96 C402.19,131 403.89,131.19 405.6,131.21 C407.31,131.22 409.02,131.06 410.73,131.05 C412.43,131.05 414.14,131.18 415.85,131.18 C417.56,131.17 419.27,131.04 420.97,131.01 C422.68,130.97 424.39,130.93 426.1,130.94 C427.8,130.96 429.51,131.04 431.22,131.08 C432.93,131.12 434.64,131.21 436.34,131.19 C438.05,131.17 439.76,130.94 441.47,130.93 C443.18,130.93 444.88,131.13 446.59,131.18 C448.3,131.23 450.01,131.23 451.72,131.23 C453.42,131.23 455.13,131.19 456.84,131.19 C458.55,131.18 460.26,131.25 461.96,131.19 C463.67,131.14 465.38,130.88 467.09,130.87 C468.79,130.86 470.5,131.06 472.21,131.12 C473.92,131.17 475.63,131.25 477.33,131.21 C479.04,131.17 480.75,130.92 482.46,130.89 C484.17,130.85 485.87,130.96 487.58,130.97 C489.29,130.99 491,130.96 492.71,130.97 C494.41,130.99 496.12,131.07 497.83,131.08 C499.54,131.09 501.24,131.04 502.95,131.03 C504.66,131.03 507.22,131.05 508.08,131.05"/>
<circle cx="344.12" cy="21.65" r="2" fill="#fff" stroke="#4ab7ee" stroke-width="1"/>
<circle cx="349.24" cy="19.86" r="2" fill="#fff" stroke="#4ab7ee" stroke-width="1"/>
<circle cx="354.36" cy="18.42" r="2" fill="#fff" stroke="#4ab7ee" stroke-width="1"/>
<circle cx="359.49" cy="17.41" r="2" fill="#fff" stroke="#4ab7ee" stroke-width="1"/>
<circle cx="364.61" cy="16.71" r="2" fill="#fff" stroke="#4ab7ee" stroke-width="1"/>
<circle cx="369.74" cy="16.23" r="2" fill="#fff" stroke="#4ab7ee" stroke-width="1"/>
<circle cx="374.86" cy="15.69" r="2" fill="#fff" stroke="#4ab7ee" stroke-width="1"/>
<circle cx="379.98" cy="15.76" r="2" fill="#fff" stroke="#4ab7ee" stroke-width="1"/>
<circle cx="385.11" cy="15.65" r="2" fill="#fff" stroke="#4ab7ee" stroke-width="1"/>
<circle cx="390.23" cy="15.16" r="2" fill="#fff" stroke="#4ab7ee" stroke-width="1"/>
<circle cx="395.35" cy="15.1" r="2" fill="#fff" stroke="#4ab7ee" stroke-width="1"/>
<circle cx="400.48" cy="15" r="2" fill="#fff" stroke="#4ab7ee" stroke-width="1"/>
<circle cx="405.6" cy="15.18" r="2" fill="#fff" stroke="#4ab7ee" stroke-width="1"/>
<circle cx="410.73" cy="14.95" r="2" fill="#fff" stroke="#4ab7ee" stroke-width="1"/>
<circle cx="415.85" cy="14.94" r="2" fill="#fff" stroke="#4ab7ee" stroke-width="1"/>
<circle cx="420.97" cy="15.2" r="2" fill="#fff" stroke="#4ab7ee" stroke-width="1"/>
<circle cx="426.1" cy="14.99" r="2" fill="#fff" stroke="#4ab7ee" stroke-width="1"/>
<circle cx="431.22" cy="14.94" r="2" fill="#fff" stroke="#4ab7ee" stroke-width="1"/>
<circle cx="436.34" cy="15.01" r="2" fill="#fff" stroke="#4ab7ee" stroke-width="1"/>
<circle cx="441.47" cy="15.06" r="2" fill="#fff" stroke="#4ab7ee" stroke-width="1"/>
<circle cx="446.59" cy="15.15" r="2" fill="#fff" stroke="#4ab7ee" stroke-width="1"/>
<circle cx="451.72" cy="15.13" r="2" fill="#fff" stroke="#4ab7ee" stroke-width="1"/>
<circle cx="456.84" cy="15.17" r="2" fill="#fff" stroke="#4ab7ee" stroke-width="1"/>
<circle cx="461.96" cy="15.24" r="2" fill="#fff" stroke="#4ab7ee" stroke-width="1"/>
<circle cx="467.09" cy="15.03" r="2" fill="#fff" stroke="#4ab7ee" stroke-width="1"/>
<circle cx="472.21" cy="15.15" r="2" fill="#fff" stroke="#4ab7ee" stroke-width="1"/>
<circle cx="477.33" cy="14.94" r="2" fill="#fff" stroke="#4ab7ee" stroke-width="1"/>
<circle cx="482.46" cy="15.24" r="2" fill="#fff" stroke="#4ab7ee" stroke-width="1"/>
<circle cx="487.58" cy="14.9" r="2" fill="#fff" stroke="#4ab7ee" stroke-width="1"/>
<circle cx="492.71" cy="14.98" r="2" fill="#fff" stroke="#4ab7ee" stroke-width="1"/>
<circle cx="497.83" cy="14.89" r="2" fill="#fff" stroke="#4ab7ee" stroke-width="1"/>
<circle cx="502.95" cy="14.9" r="2" fill="#fff" stroke="#4ab7ee" stroke-width="1"/>
<circle cx="508.08" cy="14.9" r="2" fill="#fff" stroke="#4ab7ee" stroke-width="1"/>
<circle cx="344.12" cy="124.14" r="2" fill="#fff" stroke="#982636" stroke-width="1"/>
<circle cx="349.24" cy="127.22" r="2" fill="#fff" stroke="#982636" stroke-width="1"/>
<circle cx="354.36" cy="129.25" r="2" fill="#fff" stroke="#982636" stroke-width="1"/>
<circle cx="359.49" cy="129.93" r="2" fill="#fff" stroke="#982636" stroke-width="1"/>
<circle cx="364.61" cy="130.46" r="2" fill="#fff" stroke="#982636" stroke-width="1"/>
<circle cx="369.74" cy="130.85" r="2" fill="#fff" stroke="#982636" stroke-width="1"/>
<circle cx="374.86" cy="130.93" r="2" fill="#fff" stroke="#982636" stroke-width="1"/>
<circle cx="379.98" cy="130.95" r="2" fill="#fff" stroke="#982636" stroke-width="1"/>
<circle cx="385.11" cy="131.2" r="2" fill="#fff" stroke="#982636" stroke-width="1"/>
<circle cx="390.23" cy="131.09" r="2" fill="#fff" stroke="#982636" stroke-width="1"/>
<circle cx="395.35" cy="130.99" r="2" fill="#fff" stroke="#982636" stroke-width="1"/>
<circle cx="400.48" cy="130.96" r="2" fill="#fff" stroke="#982636" stroke-width="1"/>
<circle cx="405.6" cy="131.21" r="2" fill="#fff" stroke="#982636" stroke-width="1"/>
<circle cx="410.73" cy="131.05" r="2" fill="#fff" stroke="#982636" stroke-width="1"/>
<circle cx="415.85" cy="131.18" r="2" fill="#fff" stroke="#982636" stroke-width="1"/>
<circle cx="420.97" cy="131.01" r="2" fill="#fff" stroke="#982636" stroke-width="1"/>
<circle cx="426.1" cy="130.94" r="2" fill="#fff" stroke="#982636" stroke-width="1"/>
<circle cx="431.22" cy="131.08" r="2" fill="#fff" stroke="#982636" stroke-width="1"/>
<circle cx="436.34" cy="131.19" r="2" fill="#fff" stroke="#982636" stroke-width="1"/>
<circle cx="441.47" cy="130.93" r="2" fill="#fff" stroke="#982636" stroke-width="1"/>
<circle cx="446.59" cy="131.18" r="2" fill="#fff" stroke="#982636" stroke-width="1"/>
<circle cx="451.72" cy="131.23" r="2" fill="#fff" stroke="#982636" stroke-width="1"/>
<circle cx="456.84" cy="131.19" r="2" fill="#fff" stroke="#982636" stroke-width="1"/>
<circle cx="461.96" cy="131.19" r="2" fill="#fff" stroke="#982636" stroke-width="1"/>
<circle cx="467.09" cy="130.87" r="2" fill="#fff" stroke="#982636" stroke-width="1"/>
<circle cx="472.21" cy="131.12" r="2" fill="#fff" stroke="#982636" stroke-width="1"/>
<circle cx="477.33" cy="131.21" r="2" fill="#fff" stroke="#982636" stroke-width="1"/>
<circle cx="482.46" cy="130.89" r="2" fill="#fff" stroke="#982636" stroke-width="1"/>
<circle cx="487.58" cy="130.97" r="2" fill="#fff" stroke="#982636" stroke-width="1"/>
<circle cx="492.71" cy="130.97" r="2" fill="#fff" stroke="#982636" stroke-width="1"/>
<circle cx="497.83" cy="131.08" r="2" fill="#fff" stroke="#982636" stroke-width="1"/>
<circle cx="502.95" cy="131.03" r="2" fill="#fff" stroke="#982636" stroke-width="1"/>
<circle cx="508.08" cy="131.05" r="2" fill="#fff" stroke="#982636" stroke-width="1"/>
<line x1="338.2" y1="9.1" x2="338.2" y2="138.5" stroke="#000" stroke-width="1.1"/>
<line x1="323.8" y1="71.2" x2="511.7" y2="71.2" stroke="#000" stroke-width="1.3"/>
<circle cx="337.9" cy="53.5" r="1.75" fill="#fff" stroke="#982636" stroke-width="0.95"/>
<circle cx="338.6" cy="88.1" r="1.9" fill="#fff" stroke="#4ab7ee" stroke-width="1.2"/>
<rect x="323.8" y="9.3" width="187.9" height="129.3" fill="none" stroke="#000" stroke-width="1.6"/>
<line x1="323.8" y1="71.2" x2="325.8" y2="71.2" stroke="#000" stroke-width="1"/>
<line x1="323.8" y1="71.2" x2="325.8" y2="71.2" stroke="#000" stroke-width="1"/>
<text x="321.3" y="75.1" font-size="10.9" text-anchor="end" fill="#000" stroke="#000" stroke-width="0.3" font-weight="normal">0</text>
<line x1="323.8" y1="58.78" x2="325.8" y2="58.78" stroke="#000" stroke-width="1"/>
<line x1="323.8" y1="83.62" x2="325.8" y2="83.62" stroke="#000" stroke-width="1"/>
<text x="321.3" y="62.68" font-size="10.9" text-anchor="end" fill="#000" stroke="#000" stroke-width="0.3" font-weight="normal">5</text>
<text x="321.3" y="87.52" font-size="10.9" text-anchor="end" fill="#000" stroke="#000" stroke-width="0.3" font-weight="normal">5</text>
<line x1="323.8" y1="46.36" x2="325.8" y2="46.36" stroke="#000" stroke-width="1"/>
<line x1="323.8" y1="96.04" x2="325.8" y2="96.04" stroke="#000" stroke-width="1"/>
<text x="321.3" y="50.26" font-size="10.9" text-anchor="end" fill="#000" stroke="#000" stroke-width="0.3" font-weight="normal">10</text>
<text x="321.3" y="99.94" font-size="10.9" text-anchor="end" fill="#000" stroke="#000" stroke-width="0.3" font-weight="normal">10</text>
<line x1="323.8" y1="33.94" x2="325.8" y2="33.94" stroke="#000" stroke-width="1"/>
<line x1="323.8" y1="108.46" x2="325.8" y2="108.46" stroke="#000" stroke-width="1"/>
<text x="321.3" y="37.84" font-size="10.9" text-anchor="end" fill="#000" stroke="#000" stroke-width="0.3" font-weight="normal">15</text>
<text x="321.3" y="112.36" font-size="10.9" text-anchor="end" fill="#000" stroke="#000" stroke-width="0.3" font-weight="normal">15</text>
<line x1="323.8" y1="21.52" x2="325.8" y2="21.52" stroke="#000" stroke-width="1"/>
<line x1="323.8" y1="120.88" x2="325.8" y2="120.88" stroke="#000" stroke-width="1"/>
<text x="321.3" y="25.42" font-size="10.9" text-anchor="end" fill="#000" stroke="#000" stroke-width="0.3" font-weight="normal">20</text>
<text x="321.3" y="124.78" font-size="10.9" text-anchor="end" fill="#000" stroke="#000" stroke-width="0.3" font-weight="normal">20</text>
<line x1="323.8" y1="9.1" x2="325.8" y2="9.1" stroke="#000" stroke-width="1"/>
<line x1="323.8" y1="133.3" x2="325.8" y2="133.3" stroke="#000" stroke-width="1"/>
<text x="321.3" y="13" font-size="10.9" text-anchor="end" fill="#000" stroke="#000" stroke-width="0.3" font-weight="normal">25</text>
<text x="321.3" y="137.2" font-size="10.9" text-anchor="end" fill="#000" stroke="#000" stroke-width="0.3" font-weight="normal">25</text>
<line x1="338.2" y1="138.6" x2="338.2" y2="140.8" stroke="#000" stroke-width="1"/>
<line x1="352.63" y1="138.6" x2="352.63" y2="140" stroke="#000" stroke-width="1"/>
<line x1="367.07" y1="138.6" x2="367.07" y2="140.8" stroke="#000" stroke-width="1"/>
<line x1="381.5" y1="138.6" x2="381.5" y2="140" stroke="#000" stroke-width="1"/>
<line x1="395.93" y1="138.6" x2="395.93" y2="140.8" stroke="#000" stroke-width="1"/>
<line x1="410.37" y1="138.6" x2="410.37" y2="140" stroke="#000" stroke-width="1"/>
<line x1="424.8" y1="138.6" x2="424.8" y2="140.8" stroke="#000" stroke-width="1"/>
<line x1="439.23" y1="138.6" x2="439.23" y2="140" stroke="#000" stroke-width="1"/>
<line x1="453.66" y1="138.6" x2="453.66" y2="140.8" stroke="#000" stroke-width="1"/>
<line x1="468.1" y1="138.6" x2="468.1" y2="140" stroke="#000" stroke-width="1"/>
<line x1="482.53" y1="138.6" x2="482.53" y2="140.8" stroke="#000" stroke-width="1"/>
<line x1="496.96" y1="138.6" x2="496.96" y2="140" stroke="#000" stroke-width="1"/>
<line x1="511.4" y1="138.6" x2="511.4" y2="140.8" stroke="#000" stroke-width="1"/>
<text x="338.2" y="150.9" font-size="10.9" text-anchor="middle" fill="#000" stroke="#000" stroke-width="0.3" font-weight="normal">0</text>
<text x="367.07" y="150.9" font-size="10.9" text-anchor="middle" fill="#000" stroke="#000" stroke-width="0.3" font-weight="normal">20</text>
<text x="395.93" y="150.9" font-size="10.9" text-anchor="middle" fill="#000" stroke="#000" stroke-width="0.3" font-weight="normal">40</text>
<text x="424.8" y="150.9" font-size="10.9" text-anchor="middle" fill="#000" stroke="#000" stroke-width="0.3" font-weight="normal">60</text>
<text x="453.66" y="150.9" font-size="10.9" text-anchor="middle" fill="#000" stroke="#000" stroke-width="0.3" font-weight="normal">80</text>
<text x="482.53" y="150.9" font-size="10.9" text-anchor="middle" fill="#000" stroke="#000" stroke-width="0.3" font-weight="normal">100</text>
<text x="511.4" y="150.9" font-size="10.9" text-anchor="middle" fill="#000" stroke="#000" stroke-width="0.3" font-weight="normal">120</text>
<text x="425.8" y="162.6" font-size="12.3" text-anchor="middle" fill="#000" stroke="#000" stroke-width="0.3" font-weight="normal">Time (s)</text>
<text x="304" y="38.6" font-size="10.8" text-anchor="middle" fill="#000" stroke="#000" stroke-width="0.3" font-weight="normal" transform="rotate(-90 304 38.6)">PCE (%)</text>
<text x="304.2" y="104.2" font-size="10.8" text-anchor="middle" fill="#000" stroke="#000" stroke-width="0.3" font-weight="normal" transform="rotate(-90 304.2 104.2)">J (mA/cm<tspan dy="-4" font-size="7.5">2</tspan><tspan dy="4">)</tspan></text>
<text x="372" y="44.4" font-size="10.9" fill="#000" stroke="#000" stroke-width="0.3" xml:space="preserve">SPO = 22.5%  @ 0.94 V</text>
<text x="1.6" y="177.8" font-size="19.5" text-anchor="start" fill="#000" stroke="#000" stroke-width="0.2" font-weight="bold">c</text>
<path fill="none" stroke="#45b4ee" stroke-width="1.1" d="M40,303.7 C40.9,299.34 43.6,287.76 45.4,277.56 C47.2,267.36 49,252.02 50.8,242.5 C52.6,232.98 54.4,226.67 56.2,220.44 C58,214.22 59.8,209.18 61.6,205.14 C63.4,201.1 65.2,199.21 67,196.22 C68.8,193.22 70.6,189.06 72.4,187.16 C74.2,185.27 76,184.87 77.8,184.87 C79.6,184.87 81.4,186.4 83.2,187.16 C85,187.93 86.8,188.69 88.6,189.46 C90.4,190.23 92.2,191.31 94,191.75 C95.8,192.2 97.6,192.35 99.4,192.14 C101.2,191.92 103,190.86 104.8,190.48 C106.6,190.1 108.4,190.1 110.2,189.84 C112,189.59 113.8,189.01 115.6,188.95 C117.4,188.89 119.2,189.55 121,189.46 C122.8,189.38 124.6,188.82 126.4,188.44 C128.2,188.06 130,187.46 131.8,187.16 C133.6,186.87 135.4,186.8 137.2,186.66 C139,186.51 140.8,186.27 142.6,186.27 C144.4,186.27 146.2,186.51 148,186.66 C149.8,186.8 151.6,186.93 153.4,187.16 C155.2,187.4 157,187.68 158.8,188.06 C160.6,188.44 162.4,189.14 164.2,189.46 C166,189.78 167.8,189.52 169.6,189.97 C171.4,190.42 173.2,189.4 175,192.14 C176.8,194.88 178.6,192.73 180.4,206.42 C182.2,220.1 184,258.31 185.8,274.25 C187.6,290.19 189.4,297.3 191.2,302.04 C193,306.78 194.8,302.4 196.6,302.68 C198.4,302.96 201.1,303.53 202,303.7"/>
<circle cx="45.4" cy="277.56" r="2.3" fill="#fff" stroke="#45b4ee" stroke-width="1.1"/>
<circle cx="50.8" cy="242.5" r="2.3" fill="#fff" stroke="#45b4ee" stroke-width="1.1"/>
<circle cx="56.2" cy="220.44" r="2.3" fill="#fff" stroke="#45b4ee" stroke-width="1.1"/>
<circle cx="61.6" cy="205.14" r="2.3" fill="#fff" stroke="#45b4ee" stroke-width="1.1"/>
<circle cx="67" cy="196.22" r="2.3" fill="#fff" stroke="#45b4ee" stroke-width="1.1"/>
<circle cx="72.4" cy="187.16" r="2.3" fill="#fff" stroke="#45b4ee" stroke-width="1.1"/>
<circle cx="77.8" cy="184.87" r="2.3" fill="#fff" stroke="#45b4ee" stroke-width="1.1"/>
<circle cx="83.2" cy="187.16" r="2.3" fill="#fff" stroke="#45b4ee" stroke-width="1.1"/>
<circle cx="88.6" cy="189.46" r="2.3" fill="#fff" stroke="#45b4ee" stroke-width="1.1"/>
<circle cx="94" cy="191.75" r="2.3" fill="#fff" stroke="#45b4ee" stroke-width="1.1"/>
<circle cx="99.4" cy="192.14" r="2.3" fill="#fff" stroke="#45b4ee" stroke-width="1.1"/>
<circle cx="104.8" cy="190.48" r="2.3" fill="#fff" stroke="#45b4ee" stroke-width="1.1"/>
<circle cx="110.2" cy="189.84" r="2.3" fill="#fff" stroke="#45b4ee" stroke-width="1.1"/>
<circle cx="115.6" cy="188.95" r="2.3" fill="#fff" stroke="#45b4ee" stroke-width="1.1"/>
<circle cx="121" cy="189.46" r="2.3" fill="#fff" stroke="#45b4ee" stroke-width="1.1"/>
<circle cx="126.4" cy="188.44" r="2.3" fill="#fff" stroke="#45b4ee" stroke-width="1.1"/>
<circle cx="131.8" cy="187.16" r="2.3" fill="#fff" stroke="#45b4ee" stroke-width="1.1"/>
<circle cx="137.2" cy="186.66" r="2.3" fill="#fff" stroke="#45b4ee" stroke-width="1.1"/>
<circle cx="142.6" cy="186.27" r="2.3" fill="#fff" stroke="#45b4ee" stroke-width="1.1"/>
<circle cx="148" cy="186.66" r="2.3" fill="#fff" stroke="#45b4ee" stroke-width="1.1"/>
<circle cx="153.4" cy="187.16" r="2.3" fill="#fff" stroke="#45b4ee" stroke-width="1.1"/>
<circle cx="158.8" cy="188.06" r="2.3" fill="#fff" stroke="#45b4ee" stroke-width="1.1"/>
<circle cx="164.2" cy="189.46" r="2.3" fill="#fff" stroke="#45b4ee" stroke-width="1.1"/>
<circle cx="169.6" cy="189.97" r="2.3" fill="#fff" stroke="#45b4ee" stroke-width="1.1"/>
<circle cx="175" cy="192.14" r="2.3" fill="#fff" stroke="#45b4ee" stroke-width="1.1"/>
<circle cx="180.4" cy="206.42" r="2.3" fill="#fff" stroke="#45b4ee" stroke-width="1.1"/>
<circle cx="185.8" cy="274.25" r="2.3" fill="#fff" stroke="#45b4ee" stroke-width="1.1"/>
<circle cx="191.2" cy="302.04" r="2.3" fill="#fff" stroke="#45b4ee" stroke-width="1.1"/>
<circle cx="196.6" cy="302.68" r="2.3" fill="#fff" stroke="#45b4ee" stroke-width="1.1"/>
<polyline fill="none" stroke="#560a14" stroke-width="1" points="40,303.5 42.7,303.41 45.4,303.32 48.1,303.23 50.8,303.14 53.5,303.05 56.2,302.59 58.9,302.14 61.6,301.69 64.3,300.74 67,299.79 69.7,298.25 72.4,296.71 75.1,294.9 77.8,293.09 80.5,291.09 83.2,289.1 85.9,286.9 88.6,284.71 91.3,282.22 94,279.73 96.7,276.9 99.4,274.07 102.1,271.01 104.8,267.96 107.5,265.01 110.2,262.07 112.9,259.19 115.6,256.32 118.3,253.53 121,250.75 123.7,247.99 126.4,245.22 129.1,242.39 131.8,239.56 134.5,236.78 137.2,234 139.9,231.28 142.6,228.56 145.3,225.96 148,223.35 150.7,220.64 153.4,217.92 156.1,215.2 158.8,212.49 161.5,209.77 164.2,207.05 166.9,203.77 169.6,200.49 172.3,197.43 175,194.38 177.7,191.59 180.4,189.17 183.1,187.36 185.8,186.17 188.5,185.6 191.2,185.32 193.9,185.3 196.6,185.27 199.3,185.25 202,185.23"/>
<circle cx="40" cy="303.5" r="1.85" fill="#fff" stroke="#560a14" stroke-width="1.3"/>
<circle cx="42.7" cy="303.41" r="1.85" fill="#fff" stroke="#560a14" stroke-width="1.3"/>
<circle cx="45.4" cy="303.32" r="1.85" fill="#fff" stroke="#560a14" stroke-width="1.3"/>
<circle cx="48.1" cy="303.23" r="1.85" fill="#fff" stroke="#560a14" stroke-width="1.3"/>
<circle cx="50.8" cy="303.14" r="1.85" fill="#fff" stroke="#560a14" stroke-width="1.3"/>
<circle cx="53.5" cy="303.05" r="1.85" fill="#fff" stroke="#560a14" stroke-width="1.3"/>
<circle cx="56.2" cy="302.59" r="1.85" fill="#fff" stroke="#560a14" stroke-width="1.3"/>
<circle cx="58.9" cy="302.14" r="1.85" fill="#fff" stroke="#560a14" stroke-width="1.3"/>
<circle cx="61.6" cy="301.69" r="1.85" fill="#fff" stroke="#560a14" stroke-width="1.3"/>
<circle cx="64.3" cy="300.74" r="1.85" fill="#fff" stroke="#560a14" stroke-width="1.3"/>
<circle cx="67" cy="299.79" r="1.85" fill="#fff" stroke="#560a14" stroke-width="1.3"/>
<circle cx="69.7" cy="298.25" r="1.85" fill="#fff" stroke="#560a14" stroke-width="1.3"/>
<circle cx="72.4" cy="296.71" r="1.85" fill="#fff" stroke="#560a14" stroke-width="1.3"/>
<circle cx="75.1" cy="294.9" r="1.85" fill="#fff" stroke="#560a14" stroke-width="1.3"/>
<circle cx="77.8" cy="293.09" r="1.85" fill="#fff" stroke="#560a14" stroke-width="1.3"/>
<circle cx="80.5" cy="291.09" r="1.85" fill="#fff" stroke="#560a14" stroke-width="1.3"/>
<circle cx="83.2" cy="289.1" r="1.85" fill="#fff" stroke="#560a14" stroke-width="1.3"/>
<circle cx="85.9" cy="286.9" r="1.85" fill="#fff" stroke="#560a14" stroke-width="1.3"/>
<circle cx="88.6" cy="284.71" r="1.85" fill="#fff" stroke="#560a14" stroke-width="1.3"/>
<circle cx="91.3" cy="282.22" r="1.85" fill="#fff" stroke="#560a14" stroke-width="1.3"/>
<circle cx="94" cy="279.73" r="1.85" fill="#fff" stroke="#560a14" stroke-width="1.3"/>
<circle cx="96.7" cy="276.9" r="1.85" fill="#fff" stroke="#560a14" stroke-width="1.3"/>
<circle cx="99.4" cy="274.07" r="1.85" fill="#fff" stroke="#560a14" stroke-width="1.3"/>
<circle cx="102.1" cy="271.01" r="1.85" fill="#fff" stroke="#560a14" stroke-width="1.3"/>
<circle cx="104.8" cy="267.96" r="1.85" fill="#fff" stroke="#560a14" stroke-width="1.3"/>
<circle cx="107.5" cy="265.01" r="1.85" fill="#fff" stroke="#560a14" stroke-width="1.3"/>
<circle cx="110.2" cy="262.07" r="1.85" fill="#fff" stroke="#560a14" stroke-width="1.3"/>
<circle cx="112.9" cy="259.19" r="1.85" fill="#fff" stroke="#560a14" stroke-width="1.3"/>
<circle cx="115.6" cy="256.32" r="1.85" fill="#fff" stroke="#560a14" stroke-width="1.3"/>
<circle cx="118.3" cy="253.53" r="1.85" fill="#fff" stroke="#560a14" stroke-width="1.3"/>
<circle cx="121" cy="250.75" r="1.85" fill="#fff" stroke="#560a14" stroke-width="1.3"/>
<circle cx="123.7" cy="247.99" r="1.85" fill="#fff" stroke="#560a14" stroke-width="1.3"/>
<circle cx="126.4" cy="245.22" r="1.85" fill="#fff" stroke="#560a14" stroke-width="1.3"/>
<circle cx="129.1" cy="242.39" r="1.85" fill="#fff" stroke="#560a14" stroke-width="1.3"/>
<circle cx="131.8" cy="239.56" r="1.85" fill="#fff" stroke="#560a14" stroke-width="1.3"/>
<circle cx="134.5" cy="236.78" r="1.85" fill="#fff" stroke="#560a14" stroke-width="1.3"/>
<circle cx="137.2" cy="234" r="1.85" fill="#fff" stroke="#560a14" stroke-width="1.3"/>
<circle cx="139.9" cy="231.28" r="1.85" fill="#fff" stroke="#560a14" stroke-width="1.3"/>
<circle cx="142.6" cy="228.56" r="1.85" fill="#fff" stroke="#560a14" stroke-width="1.3"/>
<circle cx="145.3" cy="225.96" r="1.85" fill="#fff" stroke="#560a14" stroke-width="1.3"/>
<circle cx="148" cy="223.35" r="1.85" fill="#fff" stroke="#560a14" stroke-width="1.3"/>
<circle cx="150.7" cy="220.64" r="1.85" fill="#fff" stroke="#560a14" stroke-width="1.3"/>
<circle cx="153.4" cy="217.92" r="1.85" fill="#fff" stroke="#560a14" stroke-width="1.3"/>
<circle cx="156.1" cy="215.2" r="1.85" fill="#fff" stroke="#560a14" stroke-width="1.3"/>
<circle cx="158.8" cy="212.49" r="1.85" fill="#fff" stroke="#560a14" stroke-width="1.3"/>
<circle cx="161.5" cy="209.77" r="1.85" fill="#fff" stroke="#560a14" stroke-width="1.3"/>
<circle cx="164.2" cy="207.05" r="1.85" fill="#fff" stroke="#560a14" stroke-width="1.3"/>
<circle cx="166.9" cy="203.77" r="1.85" fill="#fff" stroke="#560a14" stroke-width="1.3"/>
<circle cx="169.6" cy="200.49" r="1.85" fill="#fff" stroke="#560a14" stroke-width="1.3"/>
<circle cx="172.3" cy="197.43" r="1.85" fill="#fff" stroke="#560a14" stroke-width="1.3"/>
<circle cx="175" cy="194.38" r="1.85" fill="#fff" stroke="#560a14" stroke-width="1.3"/>
<circle cx="177.7" cy="191.59" r="1.85" fill="#fff" stroke="#560a14" stroke-width="1.3"/>
<circle cx="180.4" cy="189.17" r="1.85" fill="#fff" stroke="#560a14" stroke-width="1.3"/>
<circle cx="183.1" cy="187.36" r="1.85" fill="#fff" stroke="#560a14" stroke-width="1.3"/>
<circle cx="185.8" cy="186.17" r="1.85" fill="#fff" stroke="#560a14" stroke-width="1.3"/>
<circle cx="188.5" cy="185.6" r="1.85" fill="#fff" stroke="#560a14" stroke-width="1.3"/>
<circle cx="191.2" cy="185.32" r="1.85" fill="#fff" stroke="#560a14" stroke-width="1.3"/>
<circle cx="193.9" cy="185.3" r="1.85" fill="#fff" stroke="#560a14" stroke-width="1.3"/>
<circle cx="196.6" cy="185.27" r="1.85" fill="#fff" stroke="#560a14" stroke-width="1.3"/>
<circle cx="199.3" cy="185.25" r="1.85" fill="#fff" stroke="#560a14" stroke-width="1.3"/>
<circle cx="202" cy="185.23" r="1.85" fill="#fff" stroke="#560a14" stroke-width="1.3"/>
<line x1="40" y1="175.9" x2="202.3" y2="175.9" stroke="#000" stroke-width="1.6"/>
<line x1="40" y1="304.5" x2="202" y2="304.5" stroke="#000" stroke-width="1.7"/>
<line x1="40" y1="176.3" x2="40" y2="304.4" stroke="#45b4ee" stroke-width="1.4"/>
<line x1="202.3" y1="175.4" x2="202.3" y2="304.6" stroke="#560a14" stroke-width="1.8"/>
<line x1="40" y1="303.7" x2="37.6" y2="303.7" stroke="#45b4ee" stroke-width="1"/>
<line x1="40" y1="290.95" x2="38.7" y2="290.95" stroke="#45b4ee" stroke-width="1"/>
<line x1="40" y1="278.2" x2="37.6" y2="278.2" stroke="#45b4ee" stroke-width="1"/>
<line x1="40" y1="265.45" x2="38.7" y2="265.45" stroke="#45b4ee" stroke-width="1"/>
<line x1="40" y1="252.7" x2="37.6" y2="252.7" stroke="#45b4ee" stroke-width="1"/>
<line x1="40" y1="239.95" x2="38.7" y2="239.95" stroke="#45b4ee" stroke-width="1"/>
<line x1="40" y1="227.2" x2="37.6" y2="227.2" stroke="#45b4ee" stroke-width="1"/>
<line x1="40" y1="214.45" x2="38.7" y2="214.45" stroke="#45b4ee" stroke-width="1"/>
<line x1="40" y1="201.7" x2="37.6" y2="201.7" stroke="#45b4ee" stroke-width="1"/>
<line x1="40" y1="188.95" x2="38.7" y2="188.95" stroke="#45b4ee" stroke-width="1"/>
<line x1="40" y1="176.2" x2="37.6" y2="176.2" stroke="#45b4ee" stroke-width="1"/>
<text x="36.2" y="307.6" font-size="11" text-anchor="end" fill="#45b4ee" stroke="#45b4ee" stroke-width="0.3" font-weight="normal">0</text>
<text x="36.2" y="282.1" font-size="11" text-anchor="end" fill="#45b4ee" stroke="#45b4ee" stroke-width="0.3" font-weight="normal">20</text>
<text x="36.2" y="256.6" font-size="11" text-anchor="end" fill="#45b4ee" stroke="#45b4ee" stroke-width="0.3" font-weight="normal">40</text>
<text x="36.2" y="231.1" font-size="11" text-anchor="end" fill="#45b4ee" stroke="#45b4ee" stroke-width="0.3" font-weight="normal">60</text>
<text x="36.2" y="205.6" font-size="11" text-anchor="end" fill="#45b4ee" stroke="#45b4ee" stroke-width="0.3" font-weight="normal">80</text>
<text x="36.2" y="180.1" font-size="11" text-anchor="end" fill="#45b4ee" stroke="#45b4ee" stroke-width="0.3" font-weight="normal">100</text>
<line x1="202" y1="303.5" x2="204.6" y2="303.5" stroke="#560a14" stroke-width="1"/>
<line x1="202" y1="292.18" x2="203.4" y2="292.18" stroke="#560a14" stroke-width="1"/>
<line x1="202" y1="280.86" x2="204.6" y2="280.86" stroke="#560a14" stroke-width="1"/>
<line x1="202" y1="269.54" x2="203.4" y2="269.54" stroke="#560a14" stroke-width="1"/>
<line x1="202" y1="258.22" x2="204.6" y2="258.22" stroke="#560a14" stroke-width="1"/>
<line x1="202" y1="246.9" x2="203.4" y2="246.9" stroke="#560a14" stroke-width="1"/>
<line x1="202" y1="235.58" x2="204.6" y2="235.58" stroke="#560a14" stroke-width="1"/>
<line x1="202" y1="224.26" x2="203.4" y2="224.26" stroke="#560a14" stroke-width="1"/>
<line x1="202" y1="212.94" x2="204.6" y2="212.94" stroke="#560a14" stroke-width="1"/>
<line x1="202" y1="201.62" x2="203.4" y2="201.62" stroke="#560a14" stroke-width="1"/>
<line x1="202" y1="190.3" x2="204.6" y2="190.3" stroke="#560a14" stroke-width="1"/>
<text x="206.5" y="307.4" font-size="11" text-anchor="start" fill="#76142a" stroke="#76142a" stroke-width="0.3" font-weight="normal">0</text>
<text x="206.5" y="284.76" font-size="11" text-anchor="start" fill="#76142a" stroke="#76142a" stroke-width="0.3" font-weight="normal">5</text>
<text x="206.5" y="262.12" font-size="11" text-anchor="start" fill="#76142a" stroke="#76142a" stroke-width="0.3" font-weight="normal">10</text>
<text x="206.5" y="239.48" font-size="11" text-anchor="start" fill="#76142a" stroke="#76142a" stroke-width="0.3" font-weight="normal">15</text>
<text x="206.5" y="216.84" font-size="11" text-anchor="start" fill="#76142a" stroke="#76142a" stroke-width="0.3" font-weight="normal">20</text>
<text x="206.5" y="194.2" font-size="11" text-anchor="start" fill="#76142a" stroke="#76142a" stroke-width="0.3" font-weight="normal">25</text>
<line x1="40" y1="304.5" x2="40" y2="306.5" stroke="#000" stroke-width="1"/>
<line x1="53.5" y1="304.5" x2="53.5" y2="305.8" stroke="#000" stroke-width="1"/>
<line x1="67" y1="304.5" x2="67" y2="306.5" stroke="#000" stroke-width="1"/>
<line x1="80.5" y1="304.5" x2="80.5" y2="305.8" stroke="#000" stroke-width="1"/>
<line x1="94" y1="304.5" x2="94" y2="306.5" stroke="#000" stroke-width="1"/>
<line x1="107.5" y1="304.5" x2="107.5" y2="305.8" stroke="#000" stroke-width="1"/>
<line x1="121" y1="304.5" x2="121" y2="306.5" stroke="#000" stroke-width="1"/>
<line x1="134.5" y1="304.5" x2="134.5" y2="305.8" stroke="#000" stroke-width="1"/>
<line x1="148" y1="304.5" x2="148" y2="306.5" stroke="#000" stroke-width="1"/>
<line x1="161.5" y1="304.5" x2="161.5" y2="305.8" stroke="#000" stroke-width="1"/>
<line x1="175" y1="304.5" x2="175" y2="306.5" stroke="#000" stroke-width="1"/>
<line x1="188.5" y1="304.5" x2="188.5" y2="305.8" stroke="#000" stroke-width="1"/>
<line x1="202" y1="304.5" x2="202" y2="306.5" stroke="#000" stroke-width="1"/>
<text x="40" y="317.7" font-size="11" text-anchor="middle" fill="#000" stroke="#000" stroke-width="0.3" font-weight="normal">300</text>
<text x="67" y="317.7" font-size="11" text-anchor="middle" fill="#000" stroke="#000" stroke-width="0.3" font-weight="normal">400</text>
<text x="94" y="317.7" font-size="11" text-anchor="middle" fill="#000" stroke="#000" stroke-width="0.3" font-weight="normal">500</text>
<text x="121" y="317.7" font-size="11" text-anchor="middle" fill="#000" stroke="#000" stroke-width="0.3" font-weight="normal">600</text>
<text x="148" y="317.7" font-size="11" text-anchor="middle" fill="#000" stroke="#000" stroke-width="0.3" font-weight="normal">700</text>
<text x="175" y="317.7" font-size="11" text-anchor="middle" fill="#000" stroke="#000" stroke-width="0.3" font-weight="normal">800</text>
<text x="202" y="317.7" font-size="11" text-anchor="middle" fill="#000" stroke="#000" stroke-width="0.3" font-weight="normal">900</text>
<text x="126.3" y="329.5" font-size="13.3" text-anchor="middle" fill="#000" stroke="#000" stroke-width="0.3" font-weight="normal">Wavelength (nm)</text>
<text x="17.8" y="233.2" font-size="13.3" text-anchor="middle" fill="#45b4ee" stroke="#45b4ee" stroke-width="0.3" font-weight="normal" transform="rotate(-90 17.8 233.2)">EQE (%)</text>
<text x="231" y="240.1" font-size="13.6" text-anchor="middle" fill="#76142a" stroke="#76142a" stroke-width="0.3" font-weight="normal" transform="rotate(-90 231 240.1)">Integrated J<tspan dy="3" font-size="9">SC</tspan><tspan dy="-3"> (mA cm</tspan><tspan dy="-5" font-size="8.5">-2</tspan><tspan dy="5">)</tspan></text>
<line x1="52" y1="187.8" x2="65.3" y2="187.8" stroke="#45b4ee" stroke-width="1.9"/>
<polygon points="42.4,187.8 56.2,183.7 53.6,187.8 56.2,191.9" fill="#45b4ee"/>
<line x1="142.2" y1="238.6" x2="160" y2="238.6" stroke="#560a14" stroke-width="1.9"/>
<polygon points="172.9,238.6 158.3,234.8 159.6,238.6 158.3,242.4" fill="#560a14"/>
<text x="0" y="0" font-size="19.5" font-weight="bold" fill="#000" stroke="#000" stroke-width="0.2" transform="translate(240.8 177.9) scale(1 0.88)">d</text>
<defs>
<radialGradient id="g0" cx="0.5" cy="0.5" fx="0.45" fy="0.28" r="0.55"><stop offset="0" stop-color="#fff"/><stop offset="0.22" stop-color="#60d060"/><stop offset="0.6" stop-color="#109a10"/><stop offset="1" stop-color="#109a10"/></radialGradient>
<radialGradient id="g1" cx="0.5" cy="0.5" fx="0.45" fy="0.28" r="0.55"><stop offset="0" stop-color="#fff"/><stop offset="0.22" stop-color="#ff6060"/><stop offset="0.6" stop-color="#f00814"/><stop offset="1" stop-color="#f00814"/></radialGradient>
<radialGradient id="g2" cx="0.5" cy="0.5" fx="0.45" fy="0.28" r="0.55"><stop offset="0" stop-color="#fff"/><stop offset="0.22" stop-color="#6060e0"/><stop offset="0.6" stop-color="#1414b4"/><stop offset="1" stop-color="#1414b4"/></radialGradient>
<radialGradient id="g3" cx="0.5" cy="0.5" fx="0.45" fy="0.28" r="0.55"><stop offset="0" stop-color="#fff"/><stop offset="0.22" stop-color="#9a88ff"/><stop offset="0.6" stop-color="#4a32c8"/><stop offset="1" stop-color="#4a32c8"/></radialGradient>
</defs>
<rect x="275.4" y="210.3" width="13" height="21.7" fill="none" stroke="#109a10" stroke-width="1.45"/>
<line x1="275.4" y1="221" x2="288.4" y2="221" stroke="#109a10" stroke-width="1.45"/>
<line x1="281.8" y1="199" x2="281.8" y2="210.3" stroke="#109a10" stroke-width="1.45"/>
<line x1="281.8" y1="232" x2="281.8" y2="238.2" stroke="#109a10" stroke-width="1.45"/>
<line x1="279.9" y1="199" x2="283.7" y2="199" stroke="#109a10" stroke-width="1.45"/>
<line x1="279.9" y1="238.2" x2="283.7" y2="238.2" stroke="#109a10" stroke-width="1.45"/>
<circle cx="295.5" cy="198.2" r="2.6" fill="url(#g0)"/>
<circle cx="300.4" cy="201.2" r="2.6" fill="url(#g0)"/>
<circle cx="298.2" cy="210" r="2.6" fill="url(#g0)"/>
<circle cx="294.3" cy="219.6" r="2.6" fill="url(#g0)"/>
<circle cx="298.2" cy="219.6" r="2.6" fill="url(#g0)"/>
<circle cx="302" cy="221.2" r="2.6" fill="url(#g0)"/>
<circle cx="293.8" cy="229.7" r="2.6" fill="url(#g0)"/>
<circle cx="297.9" cy="231.9" r="2.6" fill="url(#g0)"/>
<circle cx="302" cy="232.4" r="2.6" fill="url(#g0)"/>
<circle cx="295.5" cy="238" r="2.6" fill="url(#g0)"/>
<circle cx="299.9" cy="236.8" r="2.6" fill="url(#g0)"/>
<rect x="270.5" y="176.7" width="39.1" height="130.1" fill="none" stroke="#000" stroke-width="1.6"/>
<line x1="270.5" y1="288.21" x2="268.3" y2="288.21" stroke="#000" stroke-width="1"/>
<text x="267.1" y="291.91" font-size="10.4" text-anchor="end" fill="#000" stroke="#000" stroke-width="0.15" font-weight="normal">18</text>
<line x1="270.5" y1="251.04" x2="268.3" y2="251.04" stroke="#000" stroke-width="1"/>
<text x="267.1" y="254.74" font-size="10.4" text-anchor="end" fill="#000" stroke="#000" stroke-width="0.15" font-weight="normal">20</text>
<line x1="270.5" y1="213.87" x2="268.3" y2="213.87" stroke="#000" stroke-width="1"/>
<text x="267.1" y="217.57" font-size="10.4" text-anchor="end" fill="#000" stroke="#000" stroke-width="0.15" font-weight="normal">22</text>
<line x1="270.5" y1="176.7" x2="268.3" y2="176.7" stroke="#000" stroke-width="1"/>
<text x="267.1" y="180.4" font-size="10.4" text-anchor="end" fill="#000" stroke="#000" stroke-width="0.15" font-weight="normal">24</text>
<line x1="270.5" y1="269.63" x2="269.2" y2="269.63" stroke="#000" stroke-width="1"/>
<line x1="270.5" y1="232.46" x2="269.2" y2="232.46" stroke="#000" stroke-width="1"/>
<line x1="270.5" y1="195.29" x2="269.2" y2="195.29" stroke="#000" stroke-width="1"/>
<rect x="338.7" y="194.9" width="12.2" height="22.7" fill="none" stroke="#f00814" stroke-width="1.45"/>
<line x1="338.7" y1="207.3" x2="350.9" y2="207.3" stroke="#f00814" stroke-width="1.45"/>
<line x1="344.8" y1="190.3" x2="344.8" y2="194.9" stroke="#f00814" stroke-width="1.45"/>
<line x1="344.8" y1="217.6" x2="344.8" y2="230.1" stroke="#f00814" stroke-width="1.45"/>
<line x1="342.9" y1="190.3" x2="346.7" y2="190.3" stroke="#f00814" stroke-width="1.45"/>
<line x1="342.9" y1="230.1" x2="346.7" y2="230.1" stroke="#f00814" stroke-width="1.45"/>
<circle cx="361.2" cy="189.9" r="2.6" fill="url(#g1)"/>
<circle cx="357.6" cy="194.1" r="2.6" fill="url(#g1)"/>
<circle cx="364.1" cy="194.8" r="2.6" fill="url(#g1)"/>
<circle cx="357.6" cy="200.7" r="2.6" fill="url(#g1)"/>
<circle cx="364.1" cy="200.7" r="2.6" fill="url(#g1)"/>
<circle cx="357.6" cy="207.9" r="2.6" fill="url(#g1)"/>
<circle cx="364.1" cy="206.8" r="2.6" fill="url(#g1)"/>
<circle cx="357.9" cy="213.3" r="2.6" fill="url(#g1)"/>
<circle cx="364.1" cy="217.4" r="2.6" fill="url(#g1)"/>
<circle cx="361.2" cy="224" r="2.6" fill="url(#g1)"/>
<circle cx="361.2" cy="229.7" r="2.6" fill="url(#g1)"/>
<rect x="333.8" y="176.7" width="38.7" height="130.1" fill="none" stroke="#000" stroke-width="1.6"/>
<line x1="333.8" y1="306.8" x2="331.6" y2="306.8" stroke="#000" stroke-width="1"/>
<text x="330.4" y="310.5" font-size="10.4" text-anchor="end" fill="#000" stroke="#000" stroke-width="0.15" font-weight="normal">18</text>
<line x1="333.8" y1="279.41" x2="331.6" y2="279.41" stroke="#000" stroke-width="1"/>
<text x="330.4" y="283.11" font-size="10.4" text-anchor="end" fill="#000" stroke="#000" stroke-width="0.15" font-weight="normal">20</text>
<line x1="333.8" y1="252.02" x2="331.6" y2="252.02" stroke="#000" stroke-width="1"/>
<text x="330.4" y="255.72" font-size="10.4" text-anchor="end" fill="#000" stroke="#000" stroke-width="0.15" font-weight="normal">22</text>
<line x1="333.8" y1="224.63" x2="331.6" y2="224.63" stroke="#000" stroke-width="1"/>
<text x="330.4" y="228.33" font-size="10.4" text-anchor="end" fill="#000" stroke="#000" stroke-width="0.15" font-weight="normal">24</text>
<line x1="333.8" y1="197.24" x2="331.6" y2="197.24" stroke="#000" stroke-width="1"/>
<text x="330.4" y="200.94" font-size="10.4" text-anchor="end" fill="#000" stroke="#000" stroke-width="0.15" font-weight="normal">26</text>
<line x1="333.8" y1="293.11" x2="332.5" y2="293.11" stroke="#000" stroke-width="1"/>
<line x1="333.8" y1="265.72" x2="332.5" y2="265.72" stroke="#000" stroke-width="1"/>
<line x1="333.8" y1="238.33" x2="332.5" y2="238.33" stroke="#000" stroke-width="1"/>
<line x1="333.8" y1="210.94" x2="332.5" y2="210.94" stroke="#000" stroke-width="1"/>
<line x1="333.8" y1="183.55" x2="332.5" y2="183.55" stroke="#000" stroke-width="1"/>
<rect x="409.8" y="207.3" width="12.9" height="14" fill="none" stroke="#1414b4" stroke-width="1.45"/>
<line x1="409.8" y1="214.2" x2="422.7" y2="214.2" stroke="#1414b4" stroke-width="1.45"/>
<line x1="416.3" y1="193.6" x2="416.3" y2="207.3" stroke="#1414b4" stroke-width="1.45"/>
<line x1="416.3" y1="221.3" x2="416.3" y2="228.2" stroke="#1414b4" stroke-width="1.45"/>
<line x1="414.4" y1="193.6" x2="418.2" y2="193.6" stroke="#1414b4" stroke-width="1.45"/>
<line x1="414.4" y1="228.2" x2="418.2" y2="228.2" stroke="#1414b4" stroke-width="1.45"/>
<circle cx="432.3" cy="193.2" r="2.6" fill="url(#g2)"/>
<circle cx="431.9" cy="202.9" r="2.6" fill="url(#g2)"/>
<circle cx="431.9" cy="206.6" r="2.6" fill="url(#g2)"/>
<circle cx="436.3" cy="211.9" r="2.6" fill="url(#g2)"/>
<circle cx="428.1" cy="214.1" r="2.6" fill="url(#g2)"/>
<circle cx="432.2" cy="213.7" r="2.6" fill="url(#g2)"/>
<circle cx="436" cy="217.1" r="2.6" fill="url(#g2)"/>
<circle cx="428.1" cy="220.8" r="2.6" fill="url(#g2)"/>
<circle cx="431.9" cy="220.8" r="2.6" fill="url(#g2)"/>
<circle cx="432.2" cy="224.6" r="2.6" fill="url(#g2)"/>
<circle cx="432.2" cy="228.3" r="2.6" fill="url(#g2)"/>
<rect x="405.2" y="176.7" width="38.8" height="130.1" fill="none" stroke="#000" stroke-width="1.6"/>
<line x1="405.2" y1="306.8" x2="403" y2="306.8" stroke="#000" stroke-width="1"/>
<text x="401.8" y="310.5" font-size="10.4" text-anchor="end" fill="#000" stroke="#000" stroke-width="0.15" font-weight="normal">0.90</text>
<line x1="405.2" y1="278.46" x2="403" y2="278.46" stroke="#000" stroke-width="1"/>
<text x="401.8" y="282.16" font-size="10.4" text-anchor="end" fill="#000" stroke="#000" stroke-width="0.15" font-weight="normal">0.95</text>
<line x1="405.2" y1="250.11" x2="403" y2="250.11" stroke="#000" stroke-width="1"/>
<text x="401.8" y="253.81" font-size="10.4" text-anchor="end" fill="#000" stroke="#000" stroke-width="0.15" font-weight="normal">1.00</text>
<line x1="405.2" y1="221.77" x2="403" y2="221.77" stroke="#000" stroke-width="1"/>
<text x="401.8" y="225.47" font-size="10.4" text-anchor="end" fill="#000" stroke="#000" stroke-width="0.15" font-weight="normal">1.05</text>
<line x1="405.2" y1="193.42" x2="403" y2="193.42" stroke="#000" stroke-width="1"/>
<text x="401.8" y="197.12" font-size="10.4" text-anchor="end" fill="#000" stroke="#000" stroke-width="0.15" font-weight="normal">1.10</text>
<line x1="405.2" y1="292.63" x2="403.9" y2="292.63" stroke="#000" stroke-width="1"/>
<line x1="405.2" y1="264.28" x2="403.9" y2="264.28" stroke="#000" stroke-width="1"/>
<line x1="405.2" y1="235.94" x2="403.9" y2="235.94" stroke="#000" stroke-width="1"/>
<line x1="405.2" y1="207.6" x2="403.9" y2="207.6" stroke="#000" stroke-width="1"/>
<line x1="405.2" y1="179.25" x2="403.9" y2="179.25" stroke="#000" stroke-width="1"/>
<rect x="479.7" y="203.3" width="13" height="21.7" fill="none" stroke="#6048e8" stroke-width="1.45"/>
<line x1="479.7" y1="206.4" x2="492.7" y2="206.4" stroke="#6048e8" stroke-width="1.45"/>
<line x1="479.7" y1="206.3" x2="492.7" y2="206.3" stroke="#6048e8" stroke-width="1.45"/>
<line x1="486.1" y1="192.5" x2="486.1" y2="203.3" stroke="#6048e8" stroke-width="1.45"/>
<line x1="486.1" y1="225" x2="486.1" y2="238.5" stroke="#6048e8" stroke-width="1.45"/>
<line x1="484.2" y1="192.5" x2="488" y2="192.5" stroke="#6048e8" stroke-width="1.45"/>
<line x1="484.2" y1="238.5" x2="488" y2="238.5" stroke="#6048e8" stroke-width="1.45"/>
<circle cx="486.1" cy="213" r="0.6" fill="#f08080"/>
<circle cx="502.3" cy="192.5" r="2.6" fill="url(#g3)"/>
<circle cx="497.4" cy="203.3" r="2.6" fill="url(#g3)"/>
<circle cx="500.5" cy="203.8" r="2.6" fill="url(#g3)"/>
<circle cx="502.8" cy="203.3" r="2.6" fill="url(#g3)"/>
<circle cx="507.3" cy="202.9" r="2.6" fill="url(#g3)"/>
<circle cx="505.1" cy="209.2" r="2.6" fill="url(#g3)"/>
<circle cx="501" cy="219.4" r="2.6" fill="url(#g3)"/>
<circle cx="503.3" cy="225.9" r="2.6" fill="url(#g3)"/>
<circle cx="503.3" cy="229" r="2.6" fill="url(#g3)"/>
<circle cx="501" cy="238.5" r="2.6" fill="url(#g3)"/>
<rect x="475.1" y="176.7" width="38.6" height="130.1" fill="none" stroke="#000" stroke-width="1.6"/>
<line x1="475.1" y1="306.8" x2="472.9" y2="306.8" stroke="#000" stroke-width="1"/>
<text x="471.7" y="310.5" font-size="10.4" text-anchor="end" fill="#000" stroke="#000" stroke-width="0.15" font-weight="normal">0.65</text>
<line x1="475.1" y1="275.82" x2="472.9" y2="275.82" stroke="#000" stroke-width="1"/>
<text x="471.7" y="279.52" font-size="10.4" text-anchor="end" fill="#000" stroke="#000" stroke-width="0.15" font-weight="normal">0.70</text>
<line x1="475.1" y1="244.85" x2="472.9" y2="244.85" stroke="#000" stroke-width="1"/>
<text x="471.7" y="248.55" font-size="10.4" text-anchor="end" fill="#000" stroke="#000" stroke-width="0.15" font-weight="normal">0.75</text>
<line x1="475.1" y1="213.87" x2="472.9" y2="213.87" stroke="#000" stroke-width="1"/>
<text x="471.7" y="217.57" font-size="10.4" text-anchor="end" fill="#000" stroke="#000" stroke-width="0.15" font-weight="normal">0.80</text>
<line x1="475.1" y1="182.9" x2="472.9" y2="182.9" stroke="#000" stroke-width="1"/>
<text x="471.7" y="186.6" font-size="10.4" text-anchor="end" fill="#000" stroke="#000" stroke-width="0.15" font-weight="normal">0.85</text>
<line x1="475.1" y1="291.31" x2="473.8" y2="291.31" stroke="#000" stroke-width="1"/>
<line x1="475.1" y1="260.34" x2="473.8" y2="260.34" stroke="#000" stroke-width="1"/>
<line x1="475.1" y1="229.36" x2="473.8" y2="229.36" stroke="#000" stroke-width="1"/>
<line x1="475.1" y1="198.38" x2="473.8" y2="198.38" stroke="#000" stroke-width="1"/>
<text x="290.3" y="320.4" font-size="10.7" text-anchor="middle" fill="#000" stroke="#000" stroke-width="0.3" font-weight="normal">PCE (%)</text>
<text x="318.5" y="320.4" font-size="10.7" text-anchor="start" fill="#000" stroke="#000" stroke-width="0.3" font-weight="normal">J<tspan dy="2.5" font-size="8">SC</tspan><tspan dy="-2.5">(mA cm</tspan><tspan dy="-4.5" font-size="7.5">-2</tspan><tspan dy="4.5">)</tspan></text>
<text x="406.9" y="320.4" font-size="10.7" text-anchor="start" fill="#000" stroke="#000" stroke-width="0.3" font-weight="normal">V<tspan dy="2.5" font-size="8">OC</tspan><tspan dy="-2.5"> (V)</tspan></text>
<text x="494.6" y="320.4" font-size="10.7" text-anchor="middle" fill="#000" stroke="#000" stroke-width="0.3" font-weight="normal">FF</text>
</svg>
</body></html>
